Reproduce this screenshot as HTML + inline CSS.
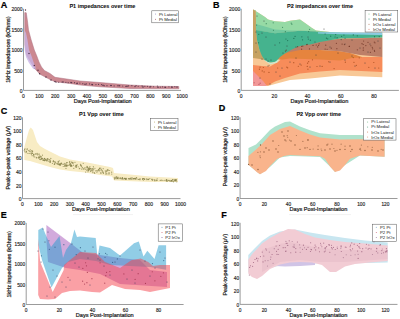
<!DOCTYPE html>
<html><head><meta charset="utf-8"><style>
html,body{margin:0;padding:0;background:#fff;overflow:hidden}
svg{display:block}
text{font-family:"Liberation Sans",sans-serif;paint-order:stroke}
</style></head><body>
<svg width="400" height="319" viewBox="0 0 400 319">
<rect width="400" height="319" fill="#fff"/>
<polygon points="24.80,12.60 26.30,12.80 27.60,22.00 28.50,30.00 31.20,40.00 34.30,50.00 36.80,56.00 39.00,62.00 41.50,67.00 44.40,70.50 50.00,73.50 55.00,77.30 60.00,78.00 70.00,79.50 80.00,81.00 100.00,82.50 130.00,85.00 155.00,86.20 178.80,86.50 178.80,88.80 130.00,88.50 100.00,86.80 80.00,85.00 70.00,83.50 55.00,81.75 50.00,79.50 40.00,74.25 36.00,70.00 32.50,65.00 30.00,61.00 26.50,55.00 24.90,45.00 24.70,30.00 24.70,12.80" fill="#cc8890" stroke="#ac7080" stroke-width="0.5"/>
<polygon points="24.60,30.00 26.00,33.00 27.50,40.00 29.00,50.00 31.50,56.00 33.50,62.00 35.50,67.00 35.50,69.50 33.00,68.50 29.00,63.00 26.00,57.00 24.70,50.00" fill="#c8b4e6" fill-opacity="0.8" stroke="none"/>
<circle cx="25.50" cy="10.00" r="0.7" fill="#4a2a40" fill-opacity="1"/>
<circle cx="29.00" cy="53.50" r="0.7" fill="#4a2a40" fill-opacity="1"/>
<circle cx="34.30" cy="65.50" r="0.7" fill="#4a2a40" fill-opacity="1"/>
<circle cx="38.00" cy="70.30" r="0.7" fill="#4a2a40" fill-opacity="1"/>
<circle cx="39.60" cy="73.80" r="0.7" fill="#4a2a40" fill-opacity="1"/>
<circle cx="46.00" cy="77.00" r="0.7" fill="#4a2a40" fill-opacity="1"/>
<circle cx="51.00" cy="80.00" r="0.7" fill="#4a2a40" fill-opacity="1"/>
<circle cx="55.00" cy="81.50" r="0.7" fill="#4a2a40" fill-opacity="1"/>
<circle cx="63.00" cy="82.00" r="0.7" fill="#4a2a40" fill-opacity="1"/>
<circle cx="71.00" cy="82.50" r="0.7" fill="#4a2a40" fill-opacity="1"/>
<circle cx="77.00" cy="83.50" r="0.7" fill="#4a2a40" fill-opacity="1"/>
<circle cx="85.00" cy="84.30" r="0.7" fill="#4a2a40" fill-opacity="1"/>
<circle cx="92.00" cy="84.50" r="0.7" fill="#4a2a40" fill-opacity="1"/>
<circle cx="103.00" cy="85.20" r="0.7" fill="#4a2a40" fill-opacity="1"/>
<circle cx="111.00" cy="85.50" r="0.7" fill="#4a2a40" fill-opacity="1"/>
<circle cx="119.00" cy="85.80" r="0.7" fill="#4a2a40" fill-opacity="1"/>
<circle cx="127.00" cy="86.30" r="0.7" fill="#4a2a40" fill-opacity="1"/>
<circle cx="135.00" cy="86.60" r="0.7" fill="#4a2a40" fill-opacity="1"/>
<circle cx="143.00" cy="87.00" r="0.7" fill="#4a2a40" fill-opacity="1"/>
<circle cx="150.00" cy="87.00" r="0.7" fill="#4a2a40" fill-opacity="1"/>
<circle cx="158.00" cy="87.20" r="0.7" fill="#4a2a40" fill-opacity="1"/>
<circle cx="165.00" cy="87.20" r="0.7" fill="#4a2a40" fill-opacity="1"/>
<circle cx="172.00" cy="87.20" r="0.7" fill="#4a2a40" fill-opacity="1"/>
<circle cx="177.00" cy="87.00" r="0.7" fill="#4a2a40" fill-opacity="1"/>
<circle cx="56.04" cy="82.18" r="0.6" fill="#4a2a40" fill-opacity="0.8"/>
<circle cx="58.68" cy="82.23" r="0.6" fill="#4a2a40" fill-opacity="0.8"/>
<circle cx="62.00" cy="82.02" r="0.6" fill="#4a2a40" fill-opacity="0.8"/>
<circle cx="65.91" cy="82.34" r="0.6" fill="#4a2a40" fill-opacity="0.8"/>
<circle cx="68.18" cy="82.63" r="0.6" fill="#4a2a40" fill-opacity="0.8"/>
<circle cx="71.70" cy="82.66" r="0.6" fill="#4a2a40" fill-opacity="0.8"/>
<circle cx="74.54" cy="82.66" r="0.6" fill="#4a2a40" fill-opacity="0.8"/>
<circle cx="77.20" cy="83.09" r="0.6" fill="#4a2a40" fill-opacity="0.8"/>
<circle cx="79.87" cy="83.03" r="0.6" fill="#4a2a40" fill-opacity="0.8"/>
<circle cx="82.80" cy="83.67" r="0.6" fill="#4a2a40" fill-opacity="0.8"/>
<circle cx="86.43" cy="83.95" r="0.6" fill="#4a2a40" fill-opacity="0.8"/>
<circle cx="89.58" cy="83.91" r="0.6" fill="#4a2a40" fill-opacity="0.8"/>
<circle cx="92.57" cy="84.64" r="0.6" fill="#4a2a40" fill-opacity="0.8"/>
<circle cx="95.95" cy="84.60" r="0.6" fill="#4a2a40" fill-opacity="0.8"/>
<circle cx="98.54" cy="84.47" r="0.6" fill="#4a2a40" fill-opacity="0.8"/>
<circle cx="101.55" cy="84.60" r="0.6" fill="#4a2a40" fill-opacity="0.8"/>
<circle cx="104.23" cy="85.69" r="0.6" fill="#4a2a40" fill-opacity="0.8"/>
<circle cx="106.97" cy="85.70" r="0.6" fill="#4a2a40" fill-opacity="0.8"/>
<circle cx="111.03" cy="85.51" r="0.6" fill="#4a2a40" fill-opacity="0.8"/>
<circle cx="114.13" cy="85.88" r="0.6" fill="#4a2a40" fill-opacity="0.8"/>
<circle cx="117.42" cy="85.77" r="0.6" fill="#4a2a40" fill-opacity="0.8"/>
<circle cx="119.81" cy="85.75" r="0.6" fill="#4a2a40" fill-opacity="0.8"/>
<circle cx="122.71" cy="86.02" r="0.6" fill="#4a2a40" fill-opacity="0.8"/>
<circle cx="125.84" cy="86.47" r="0.6" fill="#4a2a40" fill-opacity="0.8"/>
<circle cx="128.45" cy="85.92" r="0.6" fill="#4a2a40" fill-opacity="0.8"/>
<circle cx="131.87" cy="85.70" r="0.6" fill="#4a2a40" fill-opacity="0.8"/>
<circle cx="136.06" cy="85.67" r="0.6" fill="#4a2a40" fill-opacity="0.8"/>
<circle cx="138.24" cy="86.26" r="0.6" fill="#4a2a40" fill-opacity="0.8"/>
<circle cx="142.06" cy="85.88" r="0.6" fill="#4a2a40" fill-opacity="0.8"/>
<circle cx="144.88" cy="86.30" r="0.6" fill="#4a2a40" fill-opacity="0.8"/>
<circle cx="147.44" cy="86.35" r="0.6" fill="#4a2a40" fill-opacity="0.8"/>
<circle cx="150.81" cy="86.26" r="0.6" fill="#4a2a40" fill-opacity="0.8"/>
<circle cx="153.57" cy="86.75" r="0.6" fill="#4a2a40" fill-opacity="0.8"/>
<circle cx="157.39" cy="85.98" r="0.6" fill="#4a2a40" fill-opacity="0.8"/>
<circle cx="160.31" cy="87.03" r="0.6" fill="#4a2a40" fill-opacity="0.8"/>
<circle cx="162.56" cy="86.87" r="0.6" fill="#4a2a40" fill-opacity="0.8"/>
<circle cx="165.61" cy="87.31" r="0.6" fill="#4a2a40" fill-opacity="0.8"/>
<circle cx="168.93" cy="86.80" r="0.6" fill="#4a2a40" fill-opacity="0.8"/>
<circle cx="171.81" cy="86.85" r="0.6" fill="#4a2a40" fill-opacity="0.8"/>
<circle cx="174.88" cy="86.69" r="0.6" fill="#4a2a40" fill-opacity="0.8"/>
<circle cx="34.30" cy="68.60" r="0.5" fill="#9a90c0" fill-opacity="1"/>
<circle cx="26.00" cy="16.00" r="0.5" fill="#9a90c0" fill-opacity="1"/>
<line x1="23.5" y1="90.4" x2="181.0" y2="90.4" stroke="#707070" stroke-width="0.7"/>
<line x1="23.5" y1="90.4" x2="23.5" y2="8.8" stroke="#707070" stroke-width="0.7"/>
<g transform="translate(23.5 97.7) scale(0.1)"><text x="0" y="0" font-size="50.0" text-anchor="middle" font-weight="normal" fill="#1e1e1e" stroke="#1e1e1e" stroke-width="1.40">0</text></g>
<g transform="translate(39.36 97.7) scale(0.1)"><text x="0" y="0" font-size="50.0" text-anchor="middle" font-weight="normal" fill="#1e1e1e" stroke="#1e1e1e" stroke-width="1.40">100</text></g>
<g transform="translate(55.22 97.7) scale(0.1)"><text x="0" y="0" font-size="50.0" text-anchor="middle" font-weight="normal" fill="#1e1e1e" stroke="#1e1e1e" stroke-width="1.40">200</text></g>
<g transform="translate(71.08 97.7) scale(0.1)"><text x="0" y="0" font-size="50.0" text-anchor="middle" font-weight="normal" fill="#1e1e1e" stroke="#1e1e1e" stroke-width="1.40">300</text></g>
<g transform="translate(86.94 97.7) scale(0.1)"><text x="0" y="0" font-size="50.0" text-anchor="middle" font-weight="normal" fill="#1e1e1e" stroke="#1e1e1e" stroke-width="1.40">400</text></g>
<g transform="translate(102.8 97.7) scale(0.1)"><text x="0" y="0" font-size="50.0" text-anchor="middle" font-weight="normal" fill="#1e1e1e" stroke="#1e1e1e" stroke-width="1.40">500</text></g>
<g transform="translate(118.66 97.7) scale(0.1)"><text x="0" y="0" font-size="50.0" text-anchor="middle" font-weight="normal" fill="#1e1e1e" stroke="#1e1e1e" stroke-width="1.40">600</text></g>
<g transform="translate(134.51999999999998 97.7) scale(0.1)"><text x="0" y="0" font-size="50.0" text-anchor="middle" font-weight="normal" fill="#1e1e1e" stroke="#1e1e1e" stroke-width="1.40">700</text></g>
<g transform="translate(150.38 97.7) scale(0.1)"><text x="0" y="0" font-size="50.0" text-anchor="middle" font-weight="normal" fill="#1e1e1e" stroke="#1e1e1e" stroke-width="1.40">800</text></g>
<g transform="translate(166.24 97.7) scale(0.1)"><text x="0" y="0" font-size="50.0" text-anchor="middle" font-weight="normal" fill="#1e1e1e" stroke="#1e1e1e" stroke-width="1.40">900</text></g>
<g transform="translate(182.1 97.7) scale(0.1)"><text x="0" y="0" font-size="50.0" text-anchor="middle" font-weight="normal" fill="#1e1e1e" stroke="#1e1e1e" stroke-width="1.40">1000</text></g>
<g transform="translate(22.5 92.9) scale(0.1)"><text x="0" y="0" font-size="50.0" text-anchor="end" font-weight="normal" fill="#1e1e1e" stroke="#1e1e1e" stroke-width="1.40">0</text></g>
<g transform="translate(22.5 72.5) scale(0.1)"><text x="0" y="0" font-size="50.0" text-anchor="end" font-weight="normal" fill="#1e1e1e" stroke="#1e1e1e" stroke-width="1.40">500</text></g>
<g transform="translate(22.5 52.10000000000001) scale(0.1)"><text x="0" y="0" font-size="50.0" text-anchor="end" font-weight="normal" fill="#1e1e1e" stroke="#1e1e1e" stroke-width="1.40">1000</text></g>
<g transform="translate(22.5 31.70000000000001) scale(0.1)"><text x="0" y="0" font-size="50.0" text-anchor="end" font-weight="normal" fill="#1e1e1e" stroke="#1e1e1e" stroke-width="1.40">1500</text></g>
<g transform="translate(22.5 11.300000000000011) scale(0.1)"><text x="0" y="0" font-size="50.0" text-anchor="end" font-weight="normal" fill="#1e1e1e" stroke="#1e1e1e" stroke-width="1.40">2000</text></g>
<g transform="translate(102.7 103.1) scale(0.1)"><text x="0" y="0" font-size="56.0" text-anchor="middle" font-weight="normal" fill="#1e1e1e" stroke="#1e1e1e" stroke-width="2.20">Days Post-Implantation</text></g>
<g transform="translate(9.5 49.6) rotate(-90) scale(0.1)"><text x="0" y="0" font-size="55.0" text-anchor="middle" font-weight="normal" fill="#1e1e1e" stroke="#1e1e1e" stroke-width="2.20">1kHz impedances (kOhms)</text></g>
<g transform="translate(102.4 7.6) scale(0.1)"><text x="0" y="0" font-size="55.0" text-anchor="middle" font-weight="bold" fill="#111" stroke="#111" stroke-width="0.80">P1 impedances over time</text></g>
<rect x="151.8" y="10.8" width="26.69999999999999" height="12.0" fill="#fff" stroke="#555" stroke-width="0.5"/>
<circle cx="155.50" cy="14.00" r="0.5" fill="#9a90c0" fill-opacity="1"/>
<g transform="translate(159 15.5) scale(0.1)"><text x="0" y="0" font-size="43.0" text-anchor="start" font-weight="normal" fill="#111" stroke="#111" stroke-width="0.00">Pt Lateral</text></g>
<circle cx="155.50" cy="19.30" r="0.5" fill="#b06070" fill-opacity="1"/>
<g transform="translate(159 20.8) scale(0.1)"><text x="0" y="0" font-size="43.0" text-anchor="start" font-weight="normal" fill="#111" stroke="#111" stroke-width="0.00">Pt Medial</text></g>
<g transform="translate(0.8 8.2) scale(0.1)"><text x="0" y="0" font-size="90.0" text-anchor="start" font-weight="bold" fill="#000" stroke="#000" stroke-width="2.20">A</text></g>
<polygon points="253.00,9.50 258.00,12.50 265.00,16.90 268.00,19.40 275.00,21.30 285.00,21.90 290.00,20.70 300.00,19.60 305.00,23.00 312.00,28.00 316.00,30.60 330.00,32.00 340.00,32.20 382.30,32.50 382.30,77.30 340.00,75.50 310.00,78.50 290.00,80.00 275.00,84.00 268.00,86.00 253.00,86.00" fill="#f8c896" stroke="none"/>
<polygon points="253.00,65.00 262.00,66.00 270.00,66.50 278.00,62.00 285.00,56.00 290.00,53.00 300.00,53.00 320.00,56.00 340.00,57.00 382.30,57.00 382.30,72.00 340.00,70.00 320.00,71.50 300.00,73.50 285.00,78.00 275.00,81.50 268.00,85.50 262.00,84.00 253.00,80.00" fill="#f78c5a" stroke="none"/>
<polygon points="278.00,52.00 290.00,48.00 320.00,50.00 340.00,51.30 350.00,53.00 362.00,57.00 362.00,57.50 352.00,58.00 340.00,60.50 320.00,59.50 290.00,58.50 278.00,60.00" fill="#e6843e" stroke="none"/>
<polygon points="253.00,71.00 258.00,76.00 263.00,81.00 267.00,86.00 253.00,86.00" fill="#f29898" stroke="none"/>
<polygon points="285.00,46.00 300.00,43.00 320.00,41.00 340.00,38.80 382.30,37.70 382.30,57.00 360.00,55.00 340.00,51.30 320.00,50.00 300.00,50.00 285.00,53.00" fill="#bc7f68" stroke="none"/>
<polygon points="253.00,9.50 255.80,10.50 256.30,30.00 257.00,40.00 259.50,50.00 263.00,56.00 266.00,60.50 260.00,59.00 253.00,58.00" fill="#c6a262" stroke="none"/>
<polygon points="253.00,9.50 258.00,12.50 265.00,16.90 268.00,19.40 275.00,21.30 285.00,21.90 290.00,20.70 300.00,19.60 305.00,23.00 312.00,28.00 316.00,30.60 330.00,32.00 340.00,32.20 340.00,33.00 316.00,31.50 300.00,30.70 275.00,33.20 256.00,30.00 255.80,10.50" fill="#96daa5" stroke="none"/>
<polygon points="255.80,24.00 265.00,26.50 275.00,29.50 290.00,30.50 316.00,31.00 316.00,31.50 300.00,30.70 275.00,33.20 256.00,30.00" fill="#74c9a0" stroke="none"/>
<polygon points="256.00,30.00 275.00,33.20 300.00,30.70 316.00,31.50 340.00,33.00 382.30,34.80 382.30,37.50 340.00,38.50 320.00,42.00 310.00,44.50 300.00,46.00 295.00,48.00 290.00,50.50 285.00,53.50 280.00,57.00 276.00,61.50 272.00,62.60 268.00,62.30 265.00,60.50 262.00,56.00 259.50,50.00 257.00,40.00" fill="#45b38e" stroke="none"/>
<polygon points="318.00,32.30 340.00,32.20 382.30,32.50 382.30,34.90 340.00,34.20 318.00,33.40" fill="#8ccbe2" stroke="none"/>
<polygon points="263.00,59.50 266.00,61.50 270.00,64.20 277.00,62.80 280.00,58.50 275.00,62.00 270.00,63.00 266.00,60.70" fill="#c8ead6" stroke="none"/>
<circle cx="257.00" cy="16.00" r="0.6" fill="#3a3a3a" fill-opacity="0.8"/>
<circle cx="264.00" cy="21.00" r="0.6" fill="#3a3a3a" fill-opacity="0.8"/>
<circle cx="262.00" cy="33.00" r="0.6" fill="#3a3a3a" fill-opacity="0.8"/>
<circle cx="266.00" cy="37.00" r="0.6" fill="#3a3a3a" fill-opacity="0.8"/>
<circle cx="275.00" cy="45.00" r="0.6" fill="#3a3a3a" fill-opacity="0.8"/>
<circle cx="283.00" cy="53.00" r="0.6" fill="#3a3a3a" fill-opacity="0.8"/>
<circle cx="287.00" cy="46.00" r="0.6" fill="#3a3a3a" fill-opacity="0.8"/>
<circle cx="296.00" cy="47.00" r="0.6" fill="#3a3a3a" fill-opacity="0.8"/>
<circle cx="308.00" cy="37.00" r="0.6" fill="#3a3a3a" fill-opacity="0.8"/>
<circle cx="315.00" cy="42.00" r="0.6" fill="#3a3a3a" fill-opacity="0.8"/>
<circle cx="324.00" cy="29.00" r="0.6" fill="#3a3a3a" fill-opacity="0.8"/>
<circle cx="330.00" cy="47.00" r="0.6" fill="#3a3a3a" fill-opacity="0.8"/>
<circle cx="345.00" cy="44.00" r="0.6" fill="#3a3a3a" fill-opacity="0.8"/>
<circle cx="352.00" cy="40.00" r="0.6" fill="#3a3a3a" fill-opacity="0.8"/>
<circle cx="360.00" cy="48.00" r="0.6" fill="#3a3a3a" fill-opacity="0.8"/>
<circle cx="370.00" cy="44.00" r="0.6" fill="#3a3a3a" fill-opacity="0.8"/>
<circle cx="378.00" cy="41.00" r="0.6" fill="#3a3a3a" fill-opacity="0.8"/>
<circle cx="256.00" cy="32.00" r="0.6" fill="#3a3a3a" fill-opacity="0.8"/>
<circle cx="256.00" cy="43.00" r="0.6" fill="#3a3a3a" fill-opacity="0.8"/>
<circle cx="256.00" cy="52.00" r="0.6" fill="#3a3a3a" fill-opacity="0.8"/>
<circle cx="262.00" cy="59.00" r="0.6" fill="#3a3a3a" fill-opacity="0.8"/>
<circle cx="268.00" cy="66.00" r="0.6" fill="#3a3a3a" fill-opacity="0.8"/>
<circle cx="276.00" cy="72.00" r="0.6" fill="#3a3a3a" fill-opacity="0.8"/>
<circle cx="282.00" cy="68.00" r="0.6" fill="#3a3a3a" fill-opacity="0.8"/>
<circle cx="290.00" cy="62.00" r="0.6" fill="#3a3a3a" fill-opacity="0.8"/>
<circle cx="300.00" cy="64.00" r="0.6" fill="#3a3a3a" fill-opacity="0.8"/>
<circle cx="310.00" cy="67.00" r="0.6" fill="#3a3a3a" fill-opacity="0.8"/>
<circle cx="320.00" cy="66.00" r="0.6" fill="#3a3a3a" fill-opacity="0.8"/>
<circle cx="330.00" cy="62.00" r="0.6" fill="#3a3a3a" fill-opacity="0.8"/>
<circle cx="345.00" cy="60.00" r="0.6" fill="#3a3a3a" fill-opacity="0.8"/>
<circle cx="355.00" cy="66.00" r="0.6" fill="#3a3a3a" fill-opacity="0.8"/>
<circle cx="365.00" cy="63.00" r="0.6" fill="#3a3a3a" fill-opacity="0.8"/>
<circle cx="375.00" cy="68.00" r="0.6" fill="#3a3a3a" fill-opacity="0.8"/>
<circle cx="260.00" cy="78.00" r="0.6" fill="#3a3a3a" fill-opacity="0.8"/>
<circle cx="270.00" cy="84.00" r="0.6" fill="#3a3a3a" fill-opacity="0.8"/>
<circle cx="280.00" cy="76.00" r="0.6" fill="#3a3a3a" fill-opacity="0.8"/>
<circle cx="296.00" cy="58.00" r="0.6" fill="#3a3a3a" fill-opacity="0.8"/>
<circle cx="316.00" cy="55.00" r="0.6" fill="#3a3a3a" fill-opacity="0.8"/>
<circle cx="338.00" cy="53.00" r="0.6" fill="#3a3a3a" fill-opacity="0.8"/>
<circle cx="352.00" cy="56.00" r="0.6" fill="#3a3a3a" fill-opacity="0.8"/>
<circle cx="368.00" cy="52.00" r="0.6" fill="#3a3a3a" fill-opacity="0.8"/>
<circle cx="380.00" cy="48.00" r="0.6" fill="#3a3a3a" fill-opacity="0.8"/>
<circle cx="268.00" cy="61.00" r="0.6" fill="#3a3a3a" fill-opacity="0.8"/>
<circle cx="271.00" cy="60.00" r="0.6" fill="#3a3a3a" fill-opacity="0.8"/>
<circle cx="266.00" cy="59.00" r="0.6" fill="#3a3a3a" fill-opacity="0.8"/>
<circle cx="308.62" cy="31.59" r="0.6" fill="#2a7a50" fill-opacity="0.8"/>
<circle cx="285.34" cy="31.70" r="0.6" fill="#2a7a50" fill-opacity="0.8"/>
<circle cx="273.20" cy="22.80" r="0.6" fill="#2a7a50" fill-opacity="0.8"/>
<circle cx="291.19" cy="23.08" r="0.6" fill="#2a7a50" fill-opacity="0.8"/>
<circle cx="266.24" cy="23.68" r="0.6" fill="#2a7a50" fill-opacity="0.8"/>
<circle cx="291.85" cy="24.19" r="0.6" fill="#2a7a50" fill-opacity="0.8"/>
<circle cx="256.63" cy="25.12" r="0.6" fill="#2a7a50" fill-opacity="0.8"/>
<circle cx="273.46" cy="30.24" r="0.6" fill="#2a7a50" fill-opacity="0.8"/>
<circle cx="309.59" cy="29.32" r="0.6" fill="#2a7a50" fill-opacity="0.8"/>
<circle cx="282.55" cy="27.36" r="0.6" fill="#2a7a50" fill-opacity="0.8"/>
<circle cx="337.13" cy="37.72" r="0.6" fill="#1a6a50" fill-opacity="0.85"/>
<circle cx="326.47" cy="38.14" r="0.6" fill="#1a6a50" fill-opacity="0.85"/>
<circle cx="374.52" cy="36.63" r="0.6" fill="#1a6a50" fill-opacity="0.85"/>
<circle cx="310.33" cy="40.21" r="0.6" fill="#1a6a50" fill-opacity="0.85"/>
<circle cx="285.94" cy="39.01" r="0.6" fill="#1a6a50" fill-opacity="0.85"/>
<circle cx="379.20" cy="36.58" r="0.6" fill="#1a6a50" fill-opacity="0.85"/>
<circle cx="325.10" cy="34.01" r="0.6" fill="#1a6a50" fill-opacity="0.85"/>
<circle cx="308.32" cy="39.11" r="0.6" fill="#1a6a50" fill-opacity="0.85"/>
<circle cx="258.53" cy="42.77" r="0.6" fill="#1a6a50" fill-opacity="0.85"/>
<circle cx="335.65" cy="34.61" r="0.6" fill="#1a6a50" fill-opacity="0.85"/>
<circle cx="335.04" cy="37.00" r="0.6" fill="#1a6a50" fill-opacity="0.85"/>
<circle cx="341.59" cy="36.32" r="0.6" fill="#1a6a50" fill-opacity="0.85"/>
<circle cx="345.08" cy="38.24" r="0.6" fill="#1a6a50" fill-opacity="0.85"/>
<circle cx="258.79" cy="34.33" r="0.6" fill="#1a6a50" fill-opacity="0.85"/>
<circle cx="341.18" cy="39.60" r="0.6" fill="#1a6a50" fill-opacity="0.85"/>
<circle cx="287.64" cy="40.62" r="0.6" fill="#1a6a50" fill-opacity="0.85"/>
<circle cx="330.68" cy="36.13" r="0.6" fill="#1a6a50" fill-opacity="0.85"/>
<circle cx="301.86" cy="36.82" r="0.6" fill="#1a6a50" fill-opacity="0.85"/>
<circle cx="302.51" cy="39.83" r="0.6" fill="#1a6a50" fill-opacity="0.85"/>
<circle cx="293.85" cy="38.41" r="0.6" fill="#1a6a50" fill-opacity="0.85"/>
<circle cx="353.31" cy="34.92" r="0.6" fill="#1a6a50" fill-opacity="0.85"/>
<circle cx="327.73" cy="38.86" r="0.6" fill="#1a6a50" fill-opacity="0.85"/>
<circle cx="295.06" cy="36.45" r="0.6" fill="#1a6a50" fill-opacity="0.85"/>
<circle cx="357.28" cy="35.86" r="0.6" fill="#1a6a50" fill-opacity="0.85"/>
<circle cx="279.61" cy="42.82" r="0.6" fill="#1a6a50" fill-opacity="0.85"/>
<circle cx="343.96" cy="35.03" r="0.6" fill="#1a6a50" fill-opacity="0.85"/>
<circle cx="316.23" cy="45.01" r="0.6" fill="#6a3020" fill-opacity="0.8"/>
<circle cx="365.85" cy="45.58" r="0.6" fill="#6a3020" fill-opacity="0.8"/>
<circle cx="367.99" cy="42.34" r="0.6" fill="#6a3020" fill-opacity="0.8"/>
<circle cx="317.66" cy="46.97" r="0.6" fill="#6a3020" fill-opacity="0.8"/>
<circle cx="370.84" cy="45.76" r="0.6" fill="#6a3020" fill-opacity="0.8"/>
<circle cx="306.83" cy="44.68" r="0.6" fill="#6a3020" fill-opacity="0.8"/>
<circle cx="336.37" cy="43.29" r="0.6" fill="#6a3020" fill-opacity="0.8"/>
<circle cx="363.26" cy="50.18" r="0.6" fill="#6a3020" fill-opacity="0.8"/>
<circle cx="302.81" cy="46.06" r="0.6" fill="#6a3020" fill-opacity="0.8"/>
<circle cx="363.30" cy="47.91" r="0.6" fill="#6a3020" fill-opacity="0.8"/>
<circle cx="363.21" cy="44.49" r="0.6" fill="#6a3020" fill-opacity="0.8"/>
<circle cx="297.58" cy="46.68" r="0.6" fill="#6a3020" fill-opacity="0.8"/>
<circle cx="362.00" cy="43.65" r="0.6" fill="#6a3020" fill-opacity="0.8"/>
<circle cx="318.60" cy="45.32" r="0.6" fill="#6a3020" fill-opacity="0.8"/>
<circle cx="325.72" cy="45.15" r="0.6" fill="#6a3020" fill-opacity="0.8"/>
<circle cx="374.30" cy="42.02" r="0.6" fill="#6a3020" fill-opacity="0.8"/>
<circle cx="285.45" cy="51.10" r="0.6" fill="#6a3020" fill-opacity="0.8"/>
<circle cx="370.36" cy="52.36" r="0.6" fill="#6a3020" fill-opacity="0.8"/>
<circle cx="327.13" cy="49.25" r="0.6" fill="#6a3020" fill-opacity="0.8"/>
<circle cx="374.96" cy="42.85" r="0.6" fill="#6a3020" fill-opacity="0.8"/>
<circle cx="357.32" cy="49.87" r="0.6" fill="#6a3020" fill-opacity="0.8"/>
<circle cx="349.31" cy="46.29" r="0.6" fill="#6a3020" fill-opacity="0.8"/>
<circle cx="313.04" cy="45.38" r="0.6" fill="#6a3020" fill-opacity="0.8"/>
<circle cx="307.06" cy="44.33" r="0.6" fill="#6a3020" fill-opacity="0.8"/>
<circle cx="342.10" cy="44.05" r="0.6" fill="#6a3020" fill-opacity="0.8"/>
<circle cx="363.59" cy="41.01" r="0.6" fill="#6a3020" fill-opacity="0.8"/>
<circle cx="372.65" cy="48.82" r="0.6" fill="#6a3020" fill-opacity="0.8"/>
<circle cx="374.61" cy="51.48" r="0.6" fill="#6a3020" fill-opacity="0.8"/>
<circle cx="372.27" cy="47.35" r="0.6" fill="#6a3020" fill-opacity="0.8"/>
<circle cx="286.28" cy="50.08" r="0.6" fill="#6a3020" fill-opacity="0.8"/>
<circle cx="301.67" cy="46.30" r="0.6" fill="#6a3020" fill-opacity="0.8"/>
<circle cx="349.30" cy="46.35" r="0.6" fill="#6a3020" fill-opacity="0.8"/>
<circle cx="325.13" cy="49.04" r="0.6" fill="#6a3020" fill-opacity="0.8"/>
<circle cx="344.38" cy="44.54" r="0.6" fill="#6a3020" fill-opacity="0.8"/>
<circle cx="309.49" cy="48.97" r="0.6" fill="#6a3020" fill-opacity="0.8"/>
<circle cx="331.29" cy="48.16" r="0.6" fill="#6a3020" fill-opacity="0.8"/>
<circle cx="319.13" cy="43.79" r="0.6" fill="#6a3020" fill-opacity="0.8"/>
<circle cx="336.86" cy="48.69" r="0.6" fill="#6a3020" fill-opacity="0.8"/>
<circle cx="301.62" cy="49.13" r="0.6" fill="#6a3020" fill-opacity="0.8"/>
<circle cx="374.41" cy="50.32" r="0.6" fill="#6a3020" fill-opacity="0.8"/>
<circle cx="359.23" cy="57.80" r="0.6" fill="#9a4010" fill-opacity="0.75"/>
<circle cx="334.09" cy="68.62" r="0.6" fill="#9a4010" fill-opacity="0.75"/>
<circle cx="259.44" cy="69.15" r="0.6" fill="#9a4010" fill-opacity="0.75"/>
<circle cx="287.65" cy="67.86" r="0.6" fill="#9a4010" fill-opacity="0.75"/>
<circle cx="307.56" cy="63.14" r="0.6" fill="#9a4010" fill-opacity="0.75"/>
<circle cx="353.17" cy="57.54" r="0.6" fill="#9a4010" fill-opacity="0.75"/>
<circle cx="260.07" cy="67.18" r="0.6" fill="#9a4010" fill-opacity="0.75"/>
<circle cx="269.08" cy="65.26" r="0.6" fill="#9a4010" fill-opacity="0.75"/>
<circle cx="378.74" cy="68.01" r="0.6" fill="#9a4010" fill-opacity="0.75"/>
<circle cx="264.11" cy="71.89" r="0.6" fill="#9a4010" fill-opacity="0.75"/>
<circle cx="293.75" cy="62.67" r="0.6" fill="#9a4010" fill-opacity="0.75"/>
<circle cx="298.32" cy="66.27" r="0.6" fill="#9a4010" fill-opacity="0.75"/>
<circle cx="328.67" cy="61.75" r="0.6" fill="#9a4010" fill-opacity="0.75"/>
<circle cx="277.65" cy="67.99" r="0.6" fill="#9a4010" fill-opacity="0.75"/>
<circle cx="268.96" cy="72.40" r="0.6" fill="#9a4010" fill-opacity="0.75"/>
<circle cx="345.37" cy="62.22" r="0.6" fill="#9a4010" fill-opacity="0.75"/>
<circle cx="263.31" cy="67.51" r="0.6" fill="#9a4010" fill-opacity="0.75"/>
<circle cx="301.15" cy="65.09" r="0.6" fill="#9a4010" fill-opacity="0.75"/>
<circle cx="353.96" cy="62.32" r="0.6" fill="#9a4010" fill-opacity="0.75"/>
<circle cx="356.35" cy="65.37" r="0.6" fill="#9a4010" fill-opacity="0.75"/>
<circle cx="308.68" cy="61.67" r="0.6" fill="#9a4010" fill-opacity="0.75"/>
<circle cx="317.00" cy="66.52" r="0.6" fill="#9a4010" fill-opacity="0.75"/>
<circle cx="307.25" cy="66.43" r="0.6" fill="#9a4010" fill-opacity="0.75"/>
<circle cx="312.45" cy="59.86" r="0.6" fill="#9a4010" fill-opacity="0.75"/>
<circle cx="322.12" cy="66.39" r="0.6" fill="#9a4010" fill-opacity="0.75"/>
<circle cx="262.23" cy="70.96" r="0.6" fill="#9a4010" fill-opacity="0.75"/>
<circle cx="307.94" cy="69.17" r="0.6" fill="#9a4010" fill-opacity="0.75"/>
<circle cx="373.81" cy="62.49" r="0.6" fill="#9a4010" fill-opacity="0.75"/>
<circle cx="368.82" cy="67.36" r="0.6" fill="#9a4010" fill-opacity="0.75"/>
<circle cx="286.82" cy="67.16" r="0.6" fill="#9a4010" fill-opacity="0.75"/>
<circle cx="254.11" cy="82.75" r="0.6" fill="#a04050" fill-opacity="0.8"/>
<circle cx="258.96" cy="84.35" r="0.6" fill="#a04050" fill-opacity="0.8"/>
<circle cx="260.13" cy="83.20" r="0.6" fill="#a04050" fill-opacity="0.8"/>
<line x1="241.2" y1="90.4" x2="398.9" y2="90.4" stroke="#707070" stroke-width="0.7"/>
<line x1="241.2" y1="90.4" x2="241.2" y2="8.8" stroke="#707070" stroke-width="0.7"/>
<g transform="translate(241.2 97.7) scale(0.1)"><text x="0" y="0" font-size="50.0" text-anchor="middle" font-weight="normal" fill="#1e1e1e" stroke="#1e1e1e" stroke-width="1.40">0</text></g>
<g transform="translate(274.4 97.7) scale(0.1)"><text x="0" y="0" font-size="50.0" text-anchor="middle" font-weight="normal" fill="#1e1e1e" stroke="#1e1e1e" stroke-width="1.40">20</text></g>
<g transform="translate(307.6 97.7) scale(0.1)"><text x="0" y="0" font-size="50.0" text-anchor="middle" font-weight="normal" fill="#1e1e1e" stroke="#1e1e1e" stroke-width="1.40">40</text></g>
<g transform="translate(340.8 97.7) scale(0.1)"><text x="0" y="0" font-size="50.0" text-anchor="middle" font-weight="normal" fill="#1e1e1e" stroke="#1e1e1e" stroke-width="1.40">60</text></g>
<g transform="translate(374.0 97.7) scale(0.1)"><text x="0" y="0" font-size="50.0" text-anchor="middle" font-weight="normal" fill="#1e1e1e" stroke="#1e1e1e" stroke-width="1.40">80</text></g>
<g transform="translate(240.2 92.9) scale(0.1)"><text x="0" y="0" font-size="50.0" text-anchor="end" font-weight="normal" fill="#1e1e1e" stroke="#1e1e1e" stroke-width="1.40">0</text></g>
<g transform="translate(240.2 72.5) scale(0.1)"><text x="0" y="0" font-size="50.0" text-anchor="end" font-weight="normal" fill="#1e1e1e" stroke="#1e1e1e" stroke-width="1.40">500</text></g>
<g transform="translate(240.2 52.10000000000001) scale(0.1)"><text x="0" y="0" font-size="50.0" text-anchor="end" font-weight="normal" fill="#1e1e1e" stroke="#1e1e1e" stroke-width="1.40">1000</text></g>
<g transform="translate(240.2 31.70000000000001) scale(0.1)"><text x="0" y="0" font-size="50.0" text-anchor="end" font-weight="normal" fill="#1e1e1e" stroke="#1e1e1e" stroke-width="1.40">1500</text></g>
<g transform="translate(240.2 11.300000000000011) scale(0.1)"><text x="0" y="0" font-size="50.0" text-anchor="end" font-weight="normal" fill="#1e1e1e" stroke="#1e1e1e" stroke-width="1.40">2000</text></g>
<g transform="translate(319.4 103.1) scale(0.1)"><text x="0" y="0" font-size="56.0" text-anchor="middle" font-weight="normal" fill="#1e1e1e" stroke="#1e1e1e" stroke-width="2.20">Days Post-Implantation</text></g>
<g transform="translate(226.8 49.6) rotate(-90) scale(0.1)"><text x="0" y="0" font-size="55.0" text-anchor="middle" font-weight="normal" fill="#1e1e1e" stroke="#1e1e1e" stroke-width="2.20">1kHz impedances (kOhms)</text></g>
<g transform="translate(320 7.6) scale(0.1)"><text x="0" y="0" font-size="55.0" text-anchor="middle" font-weight="bold" fill="#111" stroke="#111" stroke-width="0.80">P2 impedances over time</text></g>
<rect x="365.1" y="10.6" width="32.64999999999998" height="21.4" fill="#fff" stroke="#555" stroke-width="0.5"/>
<circle cx="369.00" cy="14.00" r="0.5" fill="#6cbf80" fill-opacity="1"/>
<g transform="translate(373 15.5) scale(0.1)"><text x="0" y="0" font-size="43.0" text-anchor="start" font-weight="normal" fill="#111" stroke="#111" stroke-width="0.00">Pt Lateral</text></g>
<circle cx="369.00" cy="19.07" r="0.5" fill="#2a9a80" fill-opacity="1"/>
<g transform="translate(373 20.57) scale(0.1)"><text x="0" y="0" font-size="43.0" text-anchor="start" font-weight="normal" fill="#111" stroke="#111" stroke-width="0.00">Pt Medial</text></g>
<circle cx="369.00" cy="24.13" r="0.5" fill="#b07050" fill-opacity="1"/>
<g transform="translate(373 25.63) scale(0.1)"><text x="0" y="0" font-size="43.0" text-anchor="start" font-weight="normal" fill="#111" stroke="#111" stroke-width="0.00">IrOx Lateral</text></g>
<circle cx="369.00" cy="29.20" r="0.5" fill="#e07060" fill-opacity="1"/>
<g transform="translate(373 30.7) scale(0.1)"><text x="0" y="0" font-size="43.0" text-anchor="start" font-weight="normal" fill="#111" stroke="#111" stroke-width="0.00">IrOx Medial</text></g>
<g transform="translate(213.1 7.6) scale(0.1)"><text x="0" y="0" font-size="90.0" text-anchor="start" font-weight="bold" fill="#000" stroke="#000" stroke-width="2.20">B</text></g>
<polygon points="24.30,147.00 27.00,137.00 29.00,130.00 30.70,127.50 33.00,130.00 35.00,136.00 37.00,142.00 40.00,146.00 45.00,149.00 50.00,151.50 55.00,154.00 60.00,156.50 70.00,159.50 85.00,162.00 100.00,165.00 110.00,167.00 113.00,168.00 114.00,173.00 130.00,174.50 150.00,176.50 178.00,178.00 178.00,182.00 150.00,182.00 114.00,180.50 112.00,176.50 100.00,175.00 85.00,172.50 70.00,171.00 60.00,169.50 50.00,167.00 40.00,164.00 30.00,161.00 24.30,160.00" fill="#f8ecc4" stroke="none"/>
<circle cx="88.57" cy="168.35" r="0.6" fill="#858048" fill-opacity="0.75"/>
<circle cx="75.72" cy="165.30" r="0.6" fill="#858048" fill-opacity="0.75"/>
<circle cx="24.43" cy="151.75" r="0.6" fill="#858048" fill-opacity="0.75"/>
<circle cx="27.90" cy="153.33" r="0.6" fill="#858048" fill-opacity="0.75"/>
<circle cx="32.08" cy="155.65" r="0.6" fill="#858048" fill-opacity="0.75"/>
<circle cx="39.77" cy="159.18" r="0.6" fill="#858048" fill-opacity="0.75"/>
<circle cx="26.07" cy="151.10" r="0.6" fill="#858048" fill-opacity="0.75"/>
<circle cx="98.27" cy="170.10" r="0.6" fill="#858048" fill-opacity="0.75"/>
<circle cx="83.27" cy="169.05" r="0.6" fill="#858048" fill-opacity="0.75"/>
<circle cx="74.96" cy="162.32" r="0.6" fill="#858048" fill-opacity="0.75"/>
<circle cx="94.29" cy="172.64" r="0.6" fill="#858048" fill-opacity="0.75"/>
<circle cx="69.00" cy="165.48" r="0.6" fill="#858048" fill-opacity="0.75"/>
<circle cx="86.93" cy="170.38" r="0.6" fill="#858048" fill-opacity="0.75"/>
<circle cx="106.24" cy="173.59" r="0.6" fill="#858048" fill-opacity="0.75"/>
<circle cx="29.38" cy="150.92" r="0.6" fill="#858048" fill-opacity="0.75"/>
<circle cx="96.87" cy="172.26" r="0.6" fill="#858048" fill-opacity="0.75"/>
<circle cx="45.31" cy="159.84" r="0.6" fill="#858048" fill-opacity="0.75"/>
<circle cx="78.21" cy="166.85" r="0.6" fill="#858048" fill-opacity="0.75"/>
<circle cx="90.31" cy="168.42" r="0.6" fill="#858048" fill-opacity="0.75"/>
<circle cx="58.90" cy="164.56" r="0.6" fill="#858048" fill-opacity="0.75"/>
<circle cx="54.83" cy="161.90" r="0.6" fill="#858048" fill-opacity="0.75"/>
<circle cx="68.03" cy="165.11" r="0.6" fill="#858048" fill-opacity="0.75"/>
<circle cx="109.63" cy="170.48" r="0.6" fill="#858048" fill-opacity="0.75"/>
<circle cx="38.13" cy="157.77" r="0.6" fill="#858048" fill-opacity="0.75"/>
<circle cx="84.79" cy="167.76" r="0.6" fill="#858048" fill-opacity="0.75"/>
<circle cx="69.50" cy="162.71" r="0.6" fill="#858048" fill-opacity="0.75"/>
<circle cx="66.57" cy="162.66" r="0.6" fill="#858048" fill-opacity="0.75"/>
<circle cx="37.14" cy="153.42" r="0.6" fill="#858048" fill-opacity="0.75"/>
<circle cx="32.44" cy="153.30" r="0.6" fill="#858048" fill-opacity="0.75"/>
<circle cx="69.52" cy="161.61" r="0.6" fill="#858048" fill-opacity="0.75"/>
<circle cx="62.99" cy="164.11" r="0.6" fill="#858048" fill-opacity="0.75"/>
<circle cx="47.53" cy="159.19" r="0.6" fill="#858048" fill-opacity="0.75"/>
<circle cx="41.53" cy="156.91" r="0.6" fill="#858048" fill-opacity="0.75"/>
<circle cx="44.44" cy="158.39" r="0.6" fill="#858048" fill-opacity="0.75"/>
<circle cx="84.82" cy="168.89" r="0.6" fill="#858048" fill-opacity="0.75"/>
<circle cx="86.07" cy="167.76" r="0.6" fill="#858048" fill-opacity="0.75"/>
<circle cx="60.36" cy="165.24" r="0.6" fill="#858048" fill-opacity="0.75"/>
<circle cx="47.51" cy="158.55" r="0.6" fill="#858048" fill-opacity="0.75"/>
<circle cx="43.15" cy="160.30" r="0.6" fill="#858048" fill-opacity="0.75"/>
<circle cx="57.68" cy="163.55" r="0.6" fill="#858048" fill-opacity="0.75"/>
<circle cx="39.16" cy="156.19" r="0.6" fill="#858048" fill-opacity="0.75"/>
<circle cx="92.13" cy="170.84" r="0.6" fill="#858048" fill-opacity="0.75"/>
<circle cx="36.64" cy="157.36" r="0.6" fill="#858048" fill-opacity="0.75"/>
<circle cx="76.71" cy="165.58" r="0.6" fill="#858048" fill-opacity="0.75"/>
<circle cx="65.19" cy="165.93" r="0.6" fill="#858048" fill-opacity="0.75"/>
<circle cx="73.03" cy="162.90" r="0.6" fill="#858048" fill-opacity="0.75"/>
<circle cx="66.35" cy="164.09" r="0.6" fill="#858048" fill-opacity="0.75"/>
<circle cx="59.22" cy="160.86" r="0.6" fill="#858048" fill-opacity="0.75"/>
<circle cx="88.56" cy="170.63" r="0.6" fill="#858048" fill-opacity="0.75"/>
<circle cx="44.20" cy="158.56" r="0.6" fill="#858048" fill-opacity="0.75"/>
<circle cx="44.66" cy="158.68" r="0.6" fill="#858048" fill-opacity="0.75"/>
<circle cx="108.37" cy="170.19" r="0.6" fill="#858048" fill-opacity="0.75"/>
<circle cx="99.14" cy="170.92" r="0.6" fill="#858048" fill-opacity="0.75"/>
<circle cx="46.76" cy="160.84" r="0.6" fill="#858048" fill-opacity="0.75"/>
<circle cx="40.47" cy="156.83" r="0.6" fill="#858048" fill-opacity="0.75"/>
<circle cx="103.18" cy="168.68" r="0.6" fill="#858048" fill-opacity="0.75"/>
<circle cx="46.44" cy="160.62" r="0.6" fill="#858048" fill-opacity="0.75"/>
<circle cx="61.25" cy="163.15" r="0.6" fill="#858048" fill-opacity="0.75"/>
<circle cx="88.15" cy="169.42" r="0.6" fill="#858048" fill-opacity="0.75"/>
<circle cx="97.39" cy="170.95" r="0.6" fill="#858048" fill-opacity="0.75"/>
<circle cx="49.68" cy="159.66" r="0.6" fill="#858048" fill-opacity="0.75"/>
<circle cx="83.44" cy="168.75" r="0.6" fill="#858048" fill-opacity="0.75"/>
<circle cx="24.61" cy="149.39" r="0.6" fill="#858048" fill-opacity="0.75"/>
<circle cx="66.76" cy="166.06" r="0.6" fill="#858048" fill-opacity="0.75"/>
<circle cx="42.49" cy="155.15" r="0.6" fill="#858048" fill-opacity="0.75"/>
<circle cx="58.40" cy="161.61" r="0.6" fill="#858048" fill-opacity="0.75"/>
<circle cx="71.90" cy="166.07" r="0.6" fill="#858048" fill-opacity="0.75"/>
<circle cx="82.56" cy="167.71" r="0.6" fill="#858048" fill-opacity="0.75"/>
<circle cx="33.90" cy="156.64" r="0.6" fill="#858048" fill-opacity="0.75"/>
<circle cx="32.53" cy="151.25" r="0.6" fill="#858048" fill-opacity="0.75"/>
<circle cx="106.83" cy="170.32" r="0.6" fill="#858048" fill-opacity="0.75"/>
<circle cx="90.64" cy="171.43" r="0.6" fill="#858048" fill-opacity="0.75"/>
<circle cx="50.01" cy="160.02" r="0.6" fill="#858048" fill-opacity="0.75"/>
<circle cx="94.93" cy="168.29" r="0.6" fill="#858048" fill-opacity="0.75"/>
<circle cx="47.37" cy="160.18" r="0.6" fill="#858048" fill-opacity="0.75"/>
<circle cx="83.21" cy="163.30" r="0.6" fill="#858048" fill-opacity="0.75"/>
<circle cx="71.18" cy="166.44" r="0.6" fill="#858048" fill-opacity="0.75"/>
<circle cx="54.99" cy="163.64" r="0.6" fill="#858048" fill-opacity="0.75"/>
<circle cx="87.19" cy="167.68" r="0.6" fill="#858048" fill-opacity="0.75"/>
<circle cx="40.01" cy="155.76" r="0.6" fill="#858048" fill-opacity="0.75"/>
<circle cx="80.82" cy="165.65" r="0.6" fill="#858048" fill-opacity="0.75"/>
<circle cx="102.31" cy="170.69" r="0.6" fill="#858048" fill-opacity="0.75"/>
<circle cx="81.67" cy="169.07" r="0.6" fill="#858048" fill-opacity="0.75"/>
<circle cx="36.44" cy="157.97" r="0.6" fill="#858048" fill-opacity="0.75"/>
<circle cx="53.17" cy="161.58" r="0.6" fill="#858048" fill-opacity="0.75"/>
<circle cx="72.83" cy="163.29" r="0.6" fill="#858048" fill-opacity="0.75"/>
<circle cx="80.98" cy="165.09" r="0.6" fill="#858048" fill-opacity="0.75"/>
<circle cx="39.52" cy="157.58" r="0.6" fill="#858048" fill-opacity="0.75"/>
<circle cx="30.04" cy="151.48" r="0.6" fill="#858048" fill-opacity="0.75"/>
<circle cx="71.80" cy="162.72" r="0.6" fill="#858048" fill-opacity="0.75"/>
<circle cx="89.09" cy="168.43" r="0.6" fill="#858048" fill-opacity="0.75"/>
<circle cx="57.74" cy="164.23" r="0.6" fill="#858048" fill-opacity="0.75"/>
<circle cx="100.78" cy="172.85" r="0.6" fill="#858048" fill-opacity="0.75"/>
<circle cx="45.75" cy="159.98" r="0.6" fill="#858048" fill-opacity="0.75"/>
<circle cx="91.66" cy="168.93" r="0.6" fill="#858048" fill-opacity="0.75"/>
<circle cx="59.49" cy="164.92" r="0.6" fill="#858048" fill-opacity="0.75"/>
<circle cx="71.65" cy="165.36" r="0.6" fill="#858048" fill-opacity="0.75"/>
<circle cx="98.53" cy="169.39" r="0.6" fill="#858048" fill-opacity="0.75"/>
<circle cx="33.87" cy="154.04" r="0.6" fill="#858048" fill-opacity="0.75"/>
<circle cx="33.92" cy="154.84" r="0.6" fill="#858048" fill-opacity="0.75"/>
<circle cx="92.55" cy="169.75" r="0.6" fill="#858048" fill-opacity="0.75"/>
<circle cx="40.65" cy="156.78" r="0.6" fill="#858048" fill-opacity="0.75"/>
<circle cx="60.67" cy="163.95" r="0.6" fill="#858048" fill-opacity="0.75"/>
<circle cx="89.89" cy="166.70" r="0.6" fill="#858048" fill-opacity="0.75"/>
<circle cx="76.09" cy="166.52" r="0.6" fill="#858048" fill-opacity="0.75"/>
<circle cx="41.04" cy="159.07" r="0.6" fill="#858048" fill-opacity="0.75"/>
<circle cx="70.43" cy="164.13" r="0.6" fill="#858048" fill-opacity="0.75"/>
<circle cx="46.01" cy="159.18" r="0.6" fill="#858048" fill-opacity="0.75"/>
<circle cx="92.79" cy="172.57" r="0.6" fill="#858048" fill-opacity="0.75"/>
<circle cx="102.43" cy="171.91" r="0.6" fill="#858048" fill-opacity="0.75"/>
<circle cx="107.54" cy="170.84" r="0.6" fill="#858048" fill-opacity="0.75"/>
<circle cx="75.31" cy="166.81" r="0.6" fill="#858048" fill-opacity="0.75"/>
<circle cx="79.76" cy="168.24" r="0.6" fill="#858048" fill-opacity="0.75"/>
<circle cx="50.35" cy="160.77" r="0.6" fill="#858048" fill-opacity="0.75"/>
<circle cx="99.68" cy="168.93" r="0.6" fill="#858048" fill-opacity="0.75"/>
<circle cx="87.96" cy="168.99" r="0.6" fill="#858048" fill-opacity="0.75"/>
<circle cx="24.21" cy="150.35" r="0.6" fill="#858048" fill-opacity="0.75"/>
<circle cx="67.28" cy="162.54" r="0.6" fill="#858048" fill-opacity="0.75"/>
<circle cx="70.08" cy="164.05" r="0.6" fill="#858048" fill-opacity="0.75"/>
<circle cx="70.60" cy="165.30" r="0.6" fill="#858048" fill-opacity="0.75"/>
<circle cx="27.26" cy="148.93" r="0.6" fill="#858048" fill-opacity="0.75"/>
<circle cx="63.09" cy="164.30" r="0.6" fill="#858048" fill-opacity="0.75"/>
<circle cx="73.81" cy="168.44" r="0.6" fill="#858048" fill-opacity="0.75"/>
<circle cx="35.93" cy="154.46" r="0.6" fill="#858048" fill-opacity="0.75"/>
<circle cx="93.73" cy="169.71" r="0.6" fill="#858048" fill-opacity="0.75"/>
<circle cx="55.67" cy="162.36" r="0.6" fill="#858048" fill-opacity="0.75"/>
<circle cx="44.54" cy="160.74" r="0.6" fill="#858048" fill-opacity="0.75"/>
<circle cx="105.82" cy="172.85" r="0.6" fill="#858048" fill-opacity="0.75"/>
<circle cx="52.43" cy="163.32" r="0.6" fill="#858048" fill-opacity="0.75"/>
<circle cx="35.82" cy="153.52" r="0.6" fill="#858048" fill-opacity="0.75"/>
<circle cx="99.53" cy="168.17" r="0.6" fill="#858048" fill-opacity="0.75"/>
<circle cx="87.00" cy="166.41" r="0.6" fill="#858048" fill-opacity="0.75"/>
<circle cx="89.10" cy="167.67" r="0.6" fill="#858048" fill-opacity="0.75"/>
<circle cx="105.99" cy="174.26" r="0.6" fill="#858048" fill-opacity="0.75"/>
<circle cx="99.81" cy="168.64" r="0.6" fill="#858048" fill-opacity="0.75"/>
<circle cx="66.68" cy="165.64" r="0.6" fill="#858048" fill-opacity="0.75"/>
<circle cx="33.60" cy="154.56" r="0.6" fill="#858048" fill-opacity="0.75"/>
<circle cx="41.63" cy="158.23" r="0.6" fill="#858048" fill-opacity="0.75"/>
<circle cx="38.15" cy="154.16" r="0.6" fill="#858048" fill-opacity="0.75"/>
<circle cx="71.29" cy="165.17" r="0.6" fill="#858048" fill-opacity="0.75"/>
<circle cx="61.15" cy="163.36" r="0.6" fill="#858048" fill-opacity="0.75"/>
<circle cx="64.87" cy="163.46" r="0.6" fill="#858048" fill-opacity="0.75"/>
<circle cx="90.62" cy="168.82" r="0.6" fill="#858048" fill-opacity="0.75"/>
<circle cx="103.15" cy="172.07" r="0.6" fill="#858048" fill-opacity="0.75"/>
<circle cx="87.33" cy="167.60" r="0.6" fill="#858048" fill-opacity="0.75"/>
<circle cx="70.58" cy="166.13" r="0.6" fill="#858048" fill-opacity="0.75"/>
<circle cx="76.49" cy="165.67" r="0.6" fill="#858048" fill-opacity="0.75"/>
<circle cx="42.39" cy="158.45" r="0.6" fill="#858048" fill-opacity="0.75"/>
<circle cx="92.92" cy="170.97" r="0.6" fill="#858048" fill-opacity="0.75"/>
<circle cx="41.19" cy="159.22" r="0.6" fill="#858048" fill-opacity="0.75"/>
<circle cx="42.42" cy="159.07" r="0.6" fill="#858048" fill-opacity="0.75"/>
<circle cx="38.81" cy="158.18" r="0.6" fill="#858048" fill-opacity="0.75"/>
<circle cx="26.42" cy="151.51" r="0.6" fill="#858048" fill-opacity="0.75"/>
<circle cx="67.14" cy="165.30" r="0.6" fill="#858048" fill-opacity="0.75"/>
<circle cx="29.26" cy="153.37" r="0.6" fill="#858048" fill-opacity="0.75"/>
<circle cx="59.88" cy="164.19" r="0.6" fill="#858048" fill-opacity="0.75"/>
<circle cx="85.90" cy="169.51" r="0.6" fill="#858048" fill-opacity="0.75"/>
<circle cx="58.90" cy="164.15" r="0.6" fill="#858048" fill-opacity="0.75"/>
<circle cx="26.35" cy="151.81" r="0.6" fill="#858048" fill-opacity="0.75"/>
<circle cx="32.30" cy="153.04" r="0.6" fill="#858048" fill-opacity="0.75"/>
<circle cx="65.76" cy="165.64" r="0.6" fill="#858048" fill-opacity="0.75"/>
<circle cx="54.48" cy="164.14" r="0.6" fill="#858048" fill-opacity="0.75"/>
<circle cx="34.91" cy="156.99" r="0.6" fill="#858048" fill-opacity="0.75"/>
<circle cx="48.21" cy="161.15" r="0.6" fill="#858048" fill-opacity="0.75"/>
<circle cx="93.33" cy="166.59" r="0.6" fill="#858048" fill-opacity="0.75"/>
<circle cx="50.45" cy="161.89" r="0.6" fill="#858048" fill-opacity="0.75"/>
<circle cx="46.00" cy="159.33" r="0.6" fill="#858048" fill-opacity="0.75"/>
<circle cx="79.36" cy="168.68" r="0.6" fill="#858048" fill-opacity="0.75"/>
<circle cx="54.34" cy="164.19" r="0.6" fill="#858048" fill-opacity="0.75"/>
<circle cx="109.30" cy="173.81" r="0.6" fill="#858048" fill-opacity="0.75"/>
<circle cx="76.12" cy="165.98" r="0.6" fill="#858048" fill-opacity="0.75"/>
<circle cx="31.97" cy="153.09" r="0.6" fill="#858048" fill-opacity="0.75"/>
<circle cx="38.99" cy="157.43" r="0.6" fill="#858048" fill-opacity="0.75"/>
<circle cx="81.58" cy="166.67" r="0.6" fill="#858048" fill-opacity="0.75"/>
<circle cx="103.23" cy="172.77" r="0.6" fill="#858048" fill-opacity="0.75"/>
<circle cx="65.97" cy="168.45" r="0.6" fill="#858048" fill-opacity="0.75"/>
<circle cx="94.72" cy="173.30" r="0.6" fill="#858048" fill-opacity="0.75"/>
<circle cx="27.01" cy="149.24" r="0.6" fill="#858048" fill-opacity="0.75"/>
<circle cx="50.82" cy="158.40" r="0.6" fill="#858048" fill-opacity="0.75"/>
<circle cx="31.72" cy="150.69" r="0.6" fill="#858048" fill-opacity="0.75"/>
<circle cx="49.82" cy="161.37" r="0.6" fill="#858048" fill-opacity="0.75"/>
<circle cx="58.31" cy="162.89" r="0.6" fill="#858048" fill-opacity="0.75"/>
<circle cx="53.41" cy="160.56" r="0.6" fill="#858048" fill-opacity="0.75"/>
<circle cx="39.37" cy="154.03" r="0.6" fill="#858048" fill-opacity="0.75"/>
<circle cx="89.10" cy="168.90" r="0.6" fill="#858048" fill-opacity="0.75"/>
<circle cx="72.69" cy="162.43" r="0.6" fill="#858048" fill-opacity="0.75"/>
<circle cx="105.27" cy="170.87" r="0.6" fill="#858048" fill-opacity="0.75"/>
<circle cx="44.19" cy="160.14" r="0.6" fill="#858048" fill-opacity="0.75"/>
<circle cx="92.59" cy="168.71" r="0.6" fill="#858048" fill-opacity="0.75"/>
<circle cx="38.94" cy="157.06" r="0.6" fill="#858048" fill-opacity="0.75"/>
<circle cx="87.42" cy="166.74" r="0.6" fill="#858048" fill-opacity="0.75"/>
<circle cx="58.04" cy="161.96" r="0.6" fill="#858048" fill-opacity="0.75"/>
<circle cx="66.87" cy="166.03" r="0.6" fill="#858048" fill-opacity="0.75"/>
<circle cx="26.02" cy="152.62" r="0.6" fill="#858048" fill-opacity="0.75"/>
<circle cx="65.09" cy="164.63" r="0.6" fill="#858048" fill-opacity="0.75"/>
<circle cx="32.54" cy="151.15" r="0.6" fill="#858048" fill-opacity="0.75"/>
<circle cx="44.87" cy="160.40" r="0.6" fill="#858048" fill-opacity="0.75"/>
<circle cx="101.31" cy="169.43" r="0.6" fill="#858048" fill-opacity="0.75"/>
<circle cx="100.76" cy="168.09" r="0.6" fill="#858048" fill-opacity="0.75"/>
<circle cx="88.49" cy="169.96" r="0.6" fill="#858048" fill-opacity="0.75"/>
<circle cx="53.37" cy="161.61" r="0.6" fill="#858048" fill-opacity="0.75"/>
<circle cx="59.14" cy="164.17" r="0.6" fill="#858048" fill-opacity="0.75"/>
<circle cx="108.10" cy="173.89" r="0.6" fill="#858048" fill-opacity="0.75"/>
<circle cx="33.69" cy="155.22" r="0.6" fill="#858048" fill-opacity="0.75"/>
<circle cx="31.12" cy="151.96" r="0.6" fill="#858048" fill-opacity="0.75"/>
<circle cx="28.30" cy="150.54" r="0.6" fill="#858048" fill-opacity="0.75"/>
<circle cx="37.44" cy="154.86" r="0.6" fill="#858048" fill-opacity="0.75"/>
<circle cx="25.03" cy="148.77" r="0.6" fill="#858048" fill-opacity="0.75"/>
<circle cx="44.23" cy="160.02" r="0.6" fill="#858048" fill-opacity="0.75"/>
<circle cx="73.50" cy="165.13" r="0.6" fill="#858048" fill-opacity="0.75"/>
<circle cx="60.93" cy="164.49" r="0.6" fill="#858048" fill-opacity="0.75"/>
<circle cx="93.40" cy="168.01" r="0.6" fill="#858048" fill-opacity="0.75"/>
<circle cx="71.10" cy="165.47" r="0.6" fill="#858048" fill-opacity="0.75"/>
<circle cx="30.96" cy="153.40" r="0.6" fill="#858048" fill-opacity="0.75"/>
<circle cx="96.65" cy="170.75" r="0.6" fill="#858048" fill-opacity="0.75"/>
<circle cx="109.04" cy="172.72" r="0.6" fill="#858048" fill-opacity="0.75"/>
<circle cx="41.53" cy="158.53" r="0.6" fill="#858048" fill-opacity="0.75"/>
<circle cx="64.94" cy="164.10" r="0.6" fill="#858048" fill-opacity="0.75"/>
<circle cx="43.60" cy="159.75" r="0.6" fill="#858048" fill-opacity="0.75"/>
<circle cx="80.48" cy="164.35" r="0.6" fill="#858048" fill-opacity="0.75"/>
<circle cx="91.00" cy="170.61" r="0.6" fill="#858048" fill-opacity="0.75"/>
<circle cx="77.07" cy="164.71" r="0.6" fill="#858048" fill-opacity="0.75"/>
<circle cx="63.21" cy="166.51" r="0.6" fill="#858048" fill-opacity="0.75"/>
<circle cx="76.31" cy="167.46" r="0.6" fill="#858048" fill-opacity="0.75"/>
<circle cx="95.70" cy="170.87" r="0.6" fill="#858048" fill-opacity="0.75"/>
<circle cx="64.85" cy="166.28" r="0.6" fill="#858048" fill-opacity="0.75"/>
<circle cx="88.06" cy="170.05" r="0.6" fill="#858048" fill-opacity="0.75"/>
<circle cx="66.64" cy="165.31" r="0.6" fill="#858048" fill-opacity="0.75"/>
<circle cx="30.29" cy="149.85" r="0.6" fill="#858048" fill-opacity="0.75"/>
<circle cx="61.21" cy="163.33" r="0.6" fill="#858048" fill-opacity="0.75"/>
<circle cx="81.06" cy="165.55" r="0.6" fill="#858048" fill-opacity="0.75"/>
<circle cx="54.85" cy="161.81" r="0.6" fill="#858048" fill-opacity="0.75"/>
<circle cx="111.63" cy="172.13" r="0.6" fill="#858048" fill-opacity="0.75"/>
<circle cx="31.41" cy="154.14" r="0.6" fill="#858048" fill-opacity="0.75"/>
<circle cx="43.17" cy="160.37" r="0.6" fill="#858048" fill-opacity="0.75"/>
<circle cx="87.92" cy="171.76" r="0.6" fill="#858048" fill-opacity="0.75"/>
<circle cx="100.98" cy="173.22" r="0.6" fill="#858048" fill-opacity="0.75"/>
<circle cx="105.96" cy="171.82" r="0.6" fill="#858048" fill-opacity="0.75"/>
<circle cx="71.14" cy="161.93" r="0.6" fill="#858048" fill-opacity="0.75"/>
<circle cx="103.47" cy="173.36" r="0.6" fill="#858048" fill-opacity="0.75"/>
<circle cx="107.57" cy="169.69" r="0.6" fill="#858048" fill-opacity="0.75"/>
<circle cx="59.81" cy="164.20" r="0.6" fill="#858048" fill-opacity="0.75"/>
<circle cx="111.76" cy="174.05" r="0.6" fill="#858048" fill-opacity="0.75"/>
<circle cx="106.21" cy="171.44" r="0.6" fill="#858048" fill-opacity="0.75"/>
<circle cx="40.24" cy="159.56" r="0.6" fill="#858048" fill-opacity="0.75"/>
<circle cx="49.90" cy="162.32" r="0.6" fill="#858048" fill-opacity="0.75"/>
<circle cx="69.71" cy="164.69" r="0.6" fill="#858048" fill-opacity="0.75"/>
<circle cx="89.58" cy="169.02" r="0.6" fill="#858048" fill-opacity="0.75"/>
<circle cx="48.29" cy="159.14" r="0.6" fill="#858048" fill-opacity="0.75"/>
<circle cx="89.30" cy="169.82" r="0.6" fill="#858048" fill-opacity="0.75"/>
<circle cx="89.72" cy="169.24" r="0.6" fill="#858048" fill-opacity="0.75"/>
<circle cx="50.34" cy="161.78" r="0.6" fill="#858048" fill-opacity="0.75"/>
<circle cx="60.18" cy="164.78" r="0.6" fill="#858048" fill-opacity="0.75"/>
<circle cx="91.12" cy="170.07" r="0.6" fill="#858048" fill-opacity="0.75"/>
<circle cx="85.64" cy="172.11" r="0.6" fill="#858048" fill-opacity="0.75"/>
<circle cx="101.10" cy="170.57" r="0.6" fill="#858048" fill-opacity="0.75"/>
<circle cx="56.79" cy="163.72" r="0.6" fill="#858048" fill-opacity="0.75"/>
<circle cx="64.76" cy="165.58" r="0.6" fill="#858048" fill-opacity="0.75"/>
<circle cx="70.28" cy="163.66" r="0.6" fill="#858048" fill-opacity="0.75"/>
<circle cx="99.04" cy="170.49" r="0.6" fill="#858048" fill-opacity="0.75"/>
<circle cx="131.97" cy="177.62" r="0.6" fill="#858048" fill-opacity="0.75"/>
<circle cx="164.85" cy="180.36" r="0.6" fill="#858048" fill-opacity="0.75"/>
<circle cx="132.74" cy="178.82" r="0.6" fill="#858048" fill-opacity="0.75"/>
<circle cx="114.63" cy="179.02" r="0.6" fill="#858048" fill-opacity="0.75"/>
<circle cx="122.28" cy="177.67" r="0.6" fill="#858048" fill-opacity="0.75"/>
<circle cx="124.44" cy="178.30" r="0.6" fill="#858048" fill-opacity="0.75"/>
<circle cx="117.17" cy="178.40" r="0.6" fill="#858048" fill-opacity="0.75"/>
<circle cx="143.34" cy="180.11" r="0.6" fill="#858048" fill-opacity="0.75"/>
<circle cx="175.70" cy="180.89" r="0.6" fill="#858048" fill-opacity="0.75"/>
<circle cx="116.21" cy="176.60" r="0.6" fill="#858048" fill-opacity="0.75"/>
<circle cx="125.66" cy="179.06" r="0.6" fill="#858048" fill-opacity="0.75"/>
<circle cx="135.31" cy="178.93" r="0.6" fill="#858048" fill-opacity="0.75"/>
<circle cx="117.23" cy="177.90" r="0.6" fill="#858048" fill-opacity="0.75"/>
<circle cx="133.63" cy="178.74" r="0.6" fill="#858048" fill-opacity="0.75"/>
<circle cx="129.58" cy="178.83" r="0.6" fill="#858048" fill-opacity="0.75"/>
<circle cx="130.40" cy="178.13" r="0.6" fill="#858048" fill-opacity="0.75"/>
<circle cx="116.77" cy="177.42" r="0.6" fill="#858048" fill-opacity="0.75"/>
<circle cx="156.54" cy="180.09" r="0.6" fill="#858048" fill-opacity="0.75"/>
<circle cx="171.49" cy="180.52" r="0.6" fill="#858048" fill-opacity="0.75"/>
<circle cx="122.55" cy="177.97" r="0.6" fill="#858048" fill-opacity="0.75"/>
<circle cx="161.77" cy="180.13" r="0.6" fill="#858048" fill-opacity="0.75"/>
<circle cx="166.35" cy="179.52" r="0.6" fill="#858048" fill-opacity="0.75"/>
<circle cx="148.77" cy="179.37" r="0.6" fill="#858048" fill-opacity="0.75"/>
<circle cx="115.07" cy="178.37" r="0.6" fill="#858048" fill-opacity="0.75"/>
<circle cx="154.51" cy="180.63" r="0.6" fill="#858048" fill-opacity="0.75"/>
<circle cx="143.45" cy="178.49" r="0.6" fill="#858048" fill-opacity="0.75"/>
<circle cx="155.93" cy="180.64" r="0.6" fill="#858048" fill-opacity="0.75"/>
<circle cx="151.97" cy="179.13" r="0.6" fill="#858048" fill-opacity="0.75"/>
<circle cx="140.11" cy="178.74" r="0.6" fill="#858048" fill-opacity="0.75"/>
<circle cx="125.53" cy="178.44" r="0.6" fill="#858048" fill-opacity="0.75"/>
<circle cx="157.08" cy="180.47" r="0.6" fill="#858048" fill-opacity="0.75"/>
<circle cx="139.71" cy="179.03" r="0.6" fill="#858048" fill-opacity="0.75"/>
<circle cx="136.17" cy="177.96" r="0.6" fill="#858048" fill-opacity="0.75"/>
<circle cx="142.51" cy="179.45" r="0.6" fill="#858048" fill-opacity="0.75"/>
<circle cx="174.43" cy="180.76" r="0.6" fill="#858048" fill-opacity="0.75"/>
<circle cx="146.89" cy="179.75" r="0.6" fill="#858048" fill-opacity="0.75"/>
<circle cx="139.95" cy="179.68" r="0.6" fill="#858048" fill-opacity="0.75"/>
<circle cx="172.67" cy="179.59" r="0.6" fill="#858048" fill-opacity="0.75"/>
<circle cx="152.59" cy="180.30" r="0.6" fill="#858048" fill-opacity="0.75"/>
<circle cx="148.63" cy="179.57" r="0.6" fill="#858048" fill-opacity="0.75"/>
<circle cx="144.72" cy="179.11" r="0.6" fill="#858048" fill-opacity="0.75"/>
<circle cx="171.43" cy="181.22" r="0.6" fill="#858048" fill-opacity="0.75"/>
<circle cx="120.45" cy="178.01" r="0.6" fill="#858048" fill-opacity="0.75"/>
<circle cx="146.43" cy="178.88" r="0.6" fill="#858048" fill-opacity="0.75"/>
<circle cx="170.43" cy="181.09" r="0.6" fill="#858048" fill-opacity="0.75"/>
<circle cx="126.29" cy="178.31" r="0.6" fill="#858048" fill-opacity="0.75"/>
<circle cx="172.00" cy="180.62" r="0.6" fill="#858048" fill-opacity="0.75"/>
<circle cx="166.18" cy="180.64" r="0.6" fill="#858048" fill-opacity="0.75"/>
<circle cx="133.92" cy="178.65" r="0.6" fill="#858048" fill-opacity="0.75"/>
<circle cx="173.46" cy="181.79" r="0.6" fill="#858048" fill-opacity="0.75"/>
<circle cx="134.00" cy="178.48" r="0.6" fill="#858048" fill-opacity="0.75"/>
<circle cx="122.29" cy="178.62" r="0.6" fill="#858048" fill-opacity="0.75"/>
<circle cx="129.76" cy="178.87" r="0.6" fill="#858048" fill-opacity="0.75"/>
<circle cx="128.47" cy="178.57" r="0.6" fill="#858048" fill-opacity="0.75"/>
<circle cx="126.60" cy="179.11" r="0.6" fill="#858048" fill-opacity="0.75"/>
<circle cx="160.81" cy="180.25" r="0.6" fill="#858048" fill-opacity="0.75"/>
<circle cx="166.81" cy="179.49" r="0.6" fill="#858048" fill-opacity="0.75"/>
<circle cx="114.34" cy="177.27" r="0.6" fill="#858048" fill-opacity="0.75"/>
<circle cx="131.78" cy="178.94" r="0.6" fill="#858048" fill-opacity="0.75"/>
<circle cx="130.86" cy="178.65" r="0.6" fill="#858048" fill-opacity="0.75"/>
<circle cx="144.42" cy="179.18" r="0.6" fill="#858048" fill-opacity="0.75"/>
<circle cx="116.97" cy="178.81" r="0.6" fill="#858048" fill-opacity="0.75"/>
<circle cx="128.86" cy="178.91" r="0.6" fill="#858048" fill-opacity="0.75"/>
<circle cx="171.05" cy="180.27" r="0.6" fill="#858048" fill-opacity="0.75"/>
<circle cx="125.21" cy="179.29" r="0.6" fill="#858048" fill-opacity="0.75"/>
<circle cx="154.76" cy="179.64" r="0.6" fill="#858048" fill-opacity="0.75"/>
<circle cx="122.96" cy="179.24" r="0.6" fill="#858048" fill-opacity="0.75"/>
<circle cx="125.10" cy="178.77" r="0.6" fill="#858048" fill-opacity="0.75"/>
<circle cx="125.94" cy="178.99" r="0.6" fill="#858048" fill-opacity="0.75"/>
<circle cx="117.07" cy="177.12" r="0.6" fill="#858048" fill-opacity="0.75"/>
<circle cx="174.53" cy="179.97" r="0.6" fill="#858048" fill-opacity="0.75"/>
<circle cx="120.74" cy="178.16" r="0.6" fill="#858048" fill-opacity="0.75"/>
<circle cx="138.56" cy="179.46" r="0.6" fill="#858048" fill-opacity="0.75"/>
<circle cx="122.27" cy="178.31" r="0.6" fill="#858048" fill-opacity="0.75"/>
<circle cx="123.15" cy="178.74" r="0.6" fill="#858048" fill-opacity="0.75"/>
<circle cx="171.64" cy="180.75" r="0.6" fill="#858048" fill-opacity="0.75"/>
<circle cx="118.85" cy="178.66" r="0.6" fill="#858048" fill-opacity="0.75"/>
<circle cx="176.80" cy="181.81" r="0.6" fill="#858048" fill-opacity="0.75"/>
<circle cx="175.74" cy="180.56" r="0.6" fill="#858048" fill-opacity="0.75"/>
<circle cx="173.90" cy="180.99" r="0.6" fill="#858048" fill-opacity="0.75"/>
<circle cx="144.56" cy="179.12" r="0.6" fill="#858048" fill-opacity="0.75"/>
<circle cx="115.34" cy="177.60" r="0.6" fill="#858048" fill-opacity="0.75"/>
<circle cx="135.76" cy="178.89" r="0.6" fill="#858048" fill-opacity="0.75"/>
<circle cx="149.84" cy="178.52" r="0.6" fill="#858048" fill-opacity="0.75"/>
<circle cx="143.24" cy="178.63" r="0.6" fill="#858048" fill-opacity="0.75"/>
<circle cx="147.67" cy="179.25" r="0.6" fill="#858048" fill-opacity="0.75"/>
<circle cx="166.48" cy="180.39" r="0.6" fill="#858048" fill-opacity="0.75"/>
<circle cx="172.77" cy="181.13" r="0.6" fill="#858048" fill-opacity="0.75"/>
<circle cx="167.45" cy="180.81" r="0.6" fill="#858048" fill-opacity="0.75"/>
<circle cx="166.92" cy="181.46" r="0.6" fill="#858048" fill-opacity="0.75"/>
<circle cx="124.58" cy="178.40" r="0.6" fill="#858048" fill-opacity="0.75"/>
<circle cx="117.34" cy="178.51" r="0.6" fill="#858048" fill-opacity="0.75"/>
<circle cx="175.64" cy="179.60" r="0.6" fill="#858048" fill-opacity="0.75"/>
<circle cx="121.22" cy="178.90" r="0.6" fill="#858048" fill-opacity="0.75"/>
<circle cx="114.88" cy="178.70" r="0.6" fill="#858048" fill-opacity="0.75"/>
<circle cx="176.47" cy="179.86" r="0.6" fill="#858048" fill-opacity="0.75"/>
<circle cx="157.18" cy="178.86" r="0.6" fill="#858048" fill-opacity="0.75"/>
<circle cx="119.83" cy="178.09" r="0.6" fill="#858048" fill-opacity="0.75"/>
<circle cx="148.04" cy="179.12" r="0.6" fill="#858048" fill-opacity="0.75"/>
<circle cx="151.82" cy="179.67" r="0.6" fill="#858048" fill-opacity="0.75"/>
<circle cx="134.36" cy="178.31" r="0.6" fill="#858048" fill-opacity="0.75"/>
<circle cx="134.04" cy="178.81" r="0.6" fill="#858048" fill-opacity="0.75"/>
<circle cx="136.58" cy="177.69" r="0.6" fill="#858048" fill-opacity="0.75"/>
<circle cx="172.98" cy="179.52" r="0.6" fill="#858048" fill-opacity="0.75"/>
<circle cx="168.32" cy="180.47" r="0.6" fill="#858048" fill-opacity="0.75"/>
<circle cx="175.53" cy="180.15" r="0.6" fill="#858048" fill-opacity="0.75"/>
<circle cx="130.99" cy="179.17" r="0.6" fill="#858048" fill-opacity="0.75"/>
<circle cx="160.13" cy="180.36" r="0.6" fill="#858048" fill-opacity="0.75"/>
<circle cx="135.48" cy="178.61" r="0.6" fill="#858048" fill-opacity="0.75"/>
<circle cx="174.92" cy="180.16" r="0.6" fill="#858048" fill-opacity="0.75"/>
<circle cx="142.53" cy="178.51" r="0.6" fill="#858048" fill-opacity="0.75"/>
<circle cx="169.12" cy="180.37" r="0.6" fill="#858048" fill-opacity="0.75"/>
<circle cx="176.15" cy="179.98" r="0.6" fill="#858048" fill-opacity="0.75"/>
<circle cx="152.92" cy="179.50" r="0.6" fill="#858048" fill-opacity="0.75"/>
<circle cx="118.36" cy="177.23" r="0.6" fill="#858048" fill-opacity="0.75"/>
<circle cx="162.98" cy="180.50" r="0.6" fill="#858048" fill-opacity="0.75"/>
<circle cx="117.74" cy="178.48" r="0.6" fill="#858048" fill-opacity="0.75"/>
<circle cx="175.82" cy="180.12" r="0.6" fill="#858048" fill-opacity="0.75"/>
<circle cx="137.10" cy="179.11" r="0.6" fill="#858048" fill-opacity="0.75"/>
<circle cx="169.68" cy="180.97" r="0.6" fill="#858048" fill-opacity="0.75"/>
<line x1="22.5" y1="198.6" x2="180.5" y2="198.6" stroke="#707070" stroke-width="0.7"/>
<line x1="22.5" y1="198.6" x2="22.5" y2="117.3" stroke="#707070" stroke-width="0.7"/>
<g transform="translate(22.5 205.9) scale(0.1)"><text x="0" y="0" font-size="50.0" text-anchor="middle" font-weight="normal" fill="#1e1e1e" stroke="#1e1e1e" stroke-width="1.40">0</text></g>
<g transform="translate(38.3 205.9) scale(0.1)"><text x="0" y="0" font-size="50.0" text-anchor="middle" font-weight="normal" fill="#1e1e1e" stroke="#1e1e1e" stroke-width="1.40">100</text></g>
<g transform="translate(54.1 205.9) scale(0.1)"><text x="0" y="0" font-size="50.0" text-anchor="middle" font-weight="normal" fill="#1e1e1e" stroke="#1e1e1e" stroke-width="1.40">200</text></g>
<g transform="translate(69.9 205.9) scale(0.1)"><text x="0" y="0" font-size="50.0" text-anchor="middle" font-weight="normal" fill="#1e1e1e" stroke="#1e1e1e" stroke-width="1.40">300</text></g>
<g transform="translate(85.7 205.9) scale(0.1)"><text x="0" y="0" font-size="50.0" text-anchor="middle" font-weight="normal" fill="#1e1e1e" stroke="#1e1e1e" stroke-width="1.40">400</text></g>
<g transform="translate(101.5 205.9) scale(0.1)"><text x="0" y="0" font-size="50.0" text-anchor="middle" font-weight="normal" fill="#1e1e1e" stroke="#1e1e1e" stroke-width="1.40">500</text></g>
<g transform="translate(117.30000000000001 205.9) scale(0.1)"><text x="0" y="0" font-size="50.0" text-anchor="middle" font-weight="normal" fill="#1e1e1e" stroke="#1e1e1e" stroke-width="1.40">600</text></g>
<g transform="translate(133.10000000000002 205.9) scale(0.1)"><text x="0" y="0" font-size="50.0" text-anchor="middle" font-weight="normal" fill="#1e1e1e" stroke="#1e1e1e" stroke-width="1.40">700</text></g>
<g transform="translate(148.9 205.9) scale(0.1)"><text x="0" y="0" font-size="50.0" text-anchor="middle" font-weight="normal" fill="#1e1e1e" stroke="#1e1e1e" stroke-width="1.40">800</text></g>
<g transform="translate(164.70000000000002 205.9) scale(0.1)"><text x="0" y="0" font-size="50.0" text-anchor="middle" font-weight="normal" fill="#1e1e1e" stroke="#1e1e1e" stroke-width="1.40">900</text></g>
<g transform="translate(180.5 205.9) scale(0.1)"><text x="0" y="0" font-size="50.0" text-anchor="middle" font-weight="normal" fill="#1e1e1e" stroke="#1e1e1e" stroke-width="1.40">1000</text></g>
<g transform="translate(21.5 201.1) scale(0.1)"><text x="0" y="0" font-size="50.0" text-anchor="end" font-weight="normal" fill="#1e1e1e" stroke="#1e1e1e" stroke-width="1.40">0</text></g>
<g transform="translate(21.5 187.54999999999998) scale(0.1)"><text x="0" y="0" font-size="50.0" text-anchor="end" font-weight="normal" fill="#1e1e1e" stroke="#1e1e1e" stroke-width="1.40">20</text></g>
<g transform="translate(21.5 174.0) scale(0.1)"><text x="0" y="0" font-size="50.0" text-anchor="end" font-weight="normal" fill="#1e1e1e" stroke="#1e1e1e" stroke-width="1.40">40</text></g>
<g transform="translate(21.5 160.45) scale(0.1)"><text x="0" y="0" font-size="50.0" text-anchor="end" font-weight="normal" fill="#1e1e1e" stroke="#1e1e1e" stroke-width="1.40">60</text></g>
<g transform="translate(21.5 146.89999999999998) scale(0.1)"><text x="0" y="0" font-size="50.0" text-anchor="end" font-weight="normal" fill="#1e1e1e" stroke="#1e1e1e" stroke-width="1.40">80</text></g>
<g transform="translate(21.5 133.35) scale(0.1)"><text x="0" y="0" font-size="50.0" text-anchor="end" font-weight="normal" fill="#1e1e1e" stroke="#1e1e1e" stroke-width="1.40">100</text></g>
<g transform="translate(21.5 119.79999999999998) scale(0.1)"><text x="0" y="0" font-size="50.0" text-anchor="end" font-weight="normal" fill="#1e1e1e" stroke="#1e1e1e" stroke-width="1.40">120</text></g>
<g transform="translate(100.9 211.2) scale(0.1)"><text x="0" y="0" font-size="56.0" text-anchor="middle" font-weight="normal" fill="#1e1e1e" stroke="#1e1e1e" stroke-width="2.20">Days Post-Implantation</text></g>
<g transform="translate(9.7 157.6) rotate(-90) scale(0.1)"><text x="0" y="0" font-size="55.0" text-anchor="middle" font-weight="normal" fill="#1e1e1e" stroke="#1e1e1e" stroke-width="2.20">Peak-to-peak voltage (μV)</text></g>
<g transform="translate(101.4 115.5) scale(0.1)"><text x="0" y="0" font-size="55.0" text-anchor="middle" font-weight="bold" fill="#111" stroke="#111" stroke-width="0.80">P1 Vpp over time</text></g>
<rect x="150.5" y="118.5" width="27.5" height="12.0" fill="#fff" stroke="#555" stroke-width="0.5"/>
<circle cx="154.50" cy="122.00" r="0.5" fill="#c0b070" fill-opacity="1"/>
<g transform="translate(158 123.5) scale(0.1)"><text x="0" y="0" font-size="43.0" text-anchor="start" font-weight="normal" fill="#111" stroke="#111" stroke-width="0.00">Pt Lateral</text></g>
<circle cx="154.50" cy="127.00" r="0.5" fill="#8a8040" fill-opacity="1"/>
<g transform="translate(158 128.5) scale(0.1)"><text x="0" y="0" font-size="43.0" text-anchor="start" font-weight="normal" fill="#111" stroke="#111" stroke-width="0.00">Pt Medial</text></g>
<g transform="translate(0.8 113.6) scale(0.1)"><text x="0" y="0" font-size="90.0" text-anchor="start" font-weight="bold" fill="#000" stroke="#000" stroke-width="2.20">C</text></g>
<polygon points="248.50,148.00 256.00,144.50 262.00,138.50 270.00,130.00 275.00,126.50 285.00,122.00 290.00,121.50 300.00,126.50 310.00,130.30 320.00,133.30 340.00,135.00 360.00,135.00 384.60,136.50 384.60,156.70 360.00,155.60 345.00,165.00 335.00,172.00 330.00,166.50 320.00,157.00 300.00,156.20 290.00,156.00 280.00,157.50 270.00,167.00 260.00,174.30 248.50,165.00" fill="#b0e2cc" stroke="none"/>
<polygon points="248.50,156.00 256.00,149.50 262.00,144.00 270.00,135.00 280.00,129.00 290.00,126.00 300.00,130.50 310.00,134.50 320.00,137.50 340.00,139.50 360.00,139.20 384.60,139.00 384.60,156.70 360.00,155.60 350.00,158.70 345.00,165.00 340.00,170.50 335.00,172.00 330.00,166.50 325.00,158.70 320.00,156.30 300.00,155.60 290.00,155.00 284.00,156.00 277.00,159.00 270.00,166.00 266.00,171.00 260.00,174.30 257.00,172.30 252.00,167.70 248.50,165.00" fill="#f9b48c" stroke="none"/>
<circle cx="248.60" cy="164.40" r="0.65" fill="#7a4a2a" fill-opacity="0.85"/>
<circle cx="252.00" cy="165.00" r="0.65" fill="#7a4a2a" fill-opacity="0.85"/>
<circle cx="258.00" cy="169.50" r="0.65" fill="#7a4a2a" fill-opacity="0.85"/>
<circle cx="260.50" cy="145.00" r="0.65" fill="#7a4a2a" fill-opacity="0.85"/>
<circle cx="266.00" cy="148.00" r="0.65" fill="#7a4a2a" fill-opacity="0.85"/>
<circle cx="264.00" cy="152.00" r="0.65" fill="#7a4a2a" fill-opacity="0.85"/>
<circle cx="269.00" cy="150.00" r="0.65" fill="#7a4a2a" fill-opacity="0.85"/>
<circle cx="276.00" cy="149.00" r="0.65" fill="#7a4a2a" fill-opacity="0.85"/>
<circle cx="278.00" cy="152.00" r="0.65" fill="#7a4a2a" fill-opacity="0.85"/>
<circle cx="282.00" cy="132.00" r="0.65" fill="#7a4a2a" fill-opacity="0.85"/>
<circle cx="284.00" cy="136.00" r="0.65" fill="#7a4a2a" fill-opacity="0.85"/>
<circle cx="285.00" cy="140.00" r="0.65" fill="#7a4a2a" fill-opacity="0.85"/>
<circle cx="291.00" cy="141.00" r="0.65" fill="#7a4a2a" fill-opacity="0.85"/>
<circle cx="295.00" cy="145.00" r="0.65" fill="#7a4a2a" fill-opacity="0.85"/>
<circle cx="300.00" cy="149.30" r="0.65" fill="#7a4a2a" fill-opacity="0.85"/>
<circle cx="305.00" cy="148.00" r="0.65" fill="#7a4a2a" fill-opacity="0.85"/>
<circle cx="310.00" cy="149.30" r="0.65" fill="#7a4a2a" fill-opacity="0.85"/>
<circle cx="318.00" cy="149.30" r="0.65" fill="#7a4a2a" fill-opacity="0.85"/>
<circle cx="325.00" cy="150.00" r="0.65" fill="#7a4a2a" fill-opacity="0.85"/>
<circle cx="330.00" cy="149.00" r="0.65" fill="#7a4a2a" fill-opacity="0.85"/>
<circle cx="335.00" cy="151.00" r="0.65" fill="#7a4a2a" fill-opacity="0.85"/>
<circle cx="340.00" cy="149.50" r="0.65" fill="#7a4a2a" fill-opacity="0.85"/>
<circle cx="345.00" cy="149.30" r="0.65" fill="#7a4a2a" fill-opacity="0.85"/>
<circle cx="352.00" cy="149.50" r="0.65" fill="#7a4a2a" fill-opacity="0.85"/>
<circle cx="360.00" cy="149.30" r="0.65" fill="#7a4a2a" fill-opacity="0.85"/>
<circle cx="365.00" cy="150.50" r="0.65" fill="#7a4a2a" fill-opacity="0.85"/>
<circle cx="372.00" cy="150.00" r="0.65" fill="#7a4a2a" fill-opacity="0.85"/>
<circle cx="378.00" cy="151.00" r="0.65" fill="#7a4a2a" fill-opacity="0.85"/>
<circle cx="383.00" cy="150.00" r="0.65" fill="#7a4a2a" fill-opacity="0.85"/>
<circle cx="288.00" cy="131.00" r="0.65" fill="#7a4a2a" fill-opacity="0.85"/>
<circle cx="308.00" cy="140.00" r="0.65" fill="#7a4a2a" fill-opacity="0.85"/>
<circle cx="327.00" cy="145.00" r="0.65" fill="#7a4a2a" fill-opacity="0.85"/>
<circle cx="350.00" cy="146.00" r="0.65" fill="#7a4a2a" fill-opacity="0.85"/>
<circle cx="273.00" cy="141.00" r="0.65" fill="#7a4a2a" fill-opacity="0.85"/>
<circle cx="307.20" cy="147.65" r="0.6" fill="#8a5a3a" fill-opacity="0.7"/>
<circle cx="345.03" cy="146.21" r="0.6" fill="#8a5a3a" fill-opacity="0.7"/>
<circle cx="289.58" cy="140.05" r="0.6" fill="#8a5a3a" fill-opacity="0.7"/>
<circle cx="302.87" cy="141.44" r="0.6" fill="#8a5a3a" fill-opacity="0.7"/>
<circle cx="336.98" cy="150.34" r="0.6" fill="#8a5a3a" fill-opacity="0.7"/>
<circle cx="327.90" cy="144.11" r="0.6" fill="#8a5a3a" fill-opacity="0.7"/>
<circle cx="278.69" cy="145.48" r="0.6" fill="#8a5a3a" fill-opacity="0.7"/>
<circle cx="331.98" cy="144.13" r="0.6" fill="#8a5a3a" fill-opacity="0.7"/>
<circle cx="260.01" cy="155.90" r="0.6" fill="#8a5a3a" fill-opacity="0.7"/>
<circle cx="287.20" cy="135.53" r="0.6" fill="#8a5a3a" fill-opacity="0.7"/>
<circle cx="321.74" cy="150.59" r="0.6" fill="#8a5a3a" fill-opacity="0.7"/>
<circle cx="321.14" cy="149.02" r="0.6" fill="#8a5a3a" fill-opacity="0.7"/>
<circle cx="360.84" cy="150.27" r="0.6" fill="#8a5a3a" fill-opacity="0.7"/>
<circle cx="372.26" cy="147.29" r="0.6" fill="#8a5a3a" fill-opacity="0.7"/>
<circle cx="341.13" cy="144.16" r="0.6" fill="#8a5a3a" fill-opacity="0.7"/>
<circle cx="367.80" cy="146.73" r="0.6" fill="#8a5a3a" fill-opacity="0.7"/>
<circle cx="313.17" cy="149.02" r="0.6" fill="#8a5a3a" fill-opacity="0.7"/>
<circle cx="287.71" cy="137.26" r="0.6" fill="#8a5a3a" fill-opacity="0.7"/>
<circle cx="360.18" cy="148.36" r="0.6" fill="#8a5a3a" fill-opacity="0.7"/>
<circle cx="260.45" cy="151.80" r="0.6" fill="#8a5a3a" fill-opacity="0.7"/>
<circle cx="296.42" cy="135.48" r="0.6" fill="#8a5a3a" fill-opacity="0.7"/>
<circle cx="361.38" cy="145.07" r="0.6" fill="#8a5a3a" fill-opacity="0.7"/>
<circle cx="286.01" cy="140.91" r="0.6" fill="#8a5a3a" fill-opacity="0.7"/>
<circle cx="318.08" cy="145.91" r="0.6" fill="#8a5a3a" fill-opacity="0.7"/>
<circle cx="333.87" cy="148.52" r="0.6" fill="#8a5a3a" fill-opacity="0.7"/>
<circle cx="307.89" cy="139.93" r="0.6" fill="#8a5a3a" fill-opacity="0.7"/>
<circle cx="381.18" cy="149.35" r="0.6" fill="#8a5a3a" fill-opacity="0.7"/>
<circle cx="260.28" cy="157.53" r="0.6" fill="#8a5a3a" fill-opacity="0.7"/>
<circle cx="350.73" cy="151.42" r="0.6" fill="#8a5a3a" fill-opacity="0.7"/>
<circle cx="257.91" cy="152.37" r="0.6" fill="#8a5a3a" fill-opacity="0.7"/>
<line x1="240.1" y1="198.5" x2="397.5" y2="198.5" stroke="#707070" stroke-width="0.7"/>
<line x1="240.1" y1="198.5" x2="240.1" y2="117.3" stroke="#707070" stroke-width="0.7"/>
<g transform="translate(240.1 205.8) scale(0.1)"><text x="0" y="0" font-size="48.0" text-anchor="middle" font-weight="normal" fill="#1e1e1e" stroke="#1e1e1e" stroke-width="1.40">0</text></g>
<g transform="translate(264.32 205.8) scale(0.1)"><text x="0" y="0" font-size="48.0" text-anchor="middle" font-weight="normal" fill="#1e1e1e" stroke="#1e1e1e" stroke-width="1.40">20</text></g>
<g transform="translate(288.53999999999996 205.8) scale(0.1)"><text x="0" y="0" font-size="48.0" text-anchor="middle" font-weight="normal" fill="#1e1e1e" stroke="#1e1e1e" stroke-width="1.40">40</text></g>
<g transform="translate(312.76 205.8) scale(0.1)"><text x="0" y="0" font-size="48.0" text-anchor="middle" font-weight="normal" fill="#1e1e1e" stroke="#1e1e1e" stroke-width="1.40">60</text></g>
<g transform="translate(336.98 205.8) scale(0.1)"><text x="0" y="0" font-size="48.0" text-anchor="middle" font-weight="normal" fill="#1e1e1e" stroke="#1e1e1e" stroke-width="1.40">80</text></g>
<g transform="translate(361.2 205.8) scale(0.1)"><text x="0" y="0" font-size="48.0" text-anchor="middle" font-weight="normal" fill="#1e1e1e" stroke="#1e1e1e" stroke-width="1.40">100</text></g>
<g transform="translate(385.41999999999996 205.8) scale(0.1)"><text x="0" y="0" font-size="48.0" text-anchor="middle" font-weight="normal" fill="#1e1e1e" stroke="#1e1e1e" stroke-width="1.40">120</text></g>
<g transform="translate(239.1 201.0) scale(0.1)"><text x="0" y="0" font-size="48.0" text-anchor="end" font-weight="normal" fill="#1e1e1e" stroke="#1e1e1e" stroke-width="1.40">0</text></g>
<g transform="translate(239.1 187.47) scale(0.1)"><text x="0" y="0" font-size="48.0" text-anchor="end" font-weight="normal" fill="#1e1e1e" stroke="#1e1e1e" stroke-width="1.40">20</text></g>
<g transform="translate(239.1 173.94) scale(0.1)"><text x="0" y="0" font-size="48.0" text-anchor="end" font-weight="normal" fill="#1e1e1e" stroke="#1e1e1e" stroke-width="1.40">40</text></g>
<g transform="translate(239.1 160.41) scale(0.1)"><text x="0" y="0" font-size="48.0" text-anchor="end" font-weight="normal" fill="#1e1e1e" stroke="#1e1e1e" stroke-width="1.40">60</text></g>
<g transform="translate(239.1 146.88) scale(0.1)"><text x="0" y="0" font-size="48.0" text-anchor="end" font-weight="normal" fill="#1e1e1e" stroke="#1e1e1e" stroke-width="1.40">80</text></g>
<g transform="translate(239.1 133.35000000000002) scale(0.1)"><text x="0" y="0" font-size="48.0" text-anchor="end" font-weight="normal" fill="#1e1e1e" stroke="#1e1e1e" stroke-width="1.40">100</text></g>
<g transform="translate(239.1 119.82000000000001) scale(0.1)"><text x="0" y="0" font-size="48.0" text-anchor="end" font-weight="normal" fill="#1e1e1e" stroke="#1e1e1e" stroke-width="1.40">120</text></g>
<g transform="translate(318.4 211.2) scale(0.1)"><text x="0" y="0" font-size="56.0" text-anchor="middle" font-weight="normal" fill="#1e1e1e" stroke="#1e1e1e" stroke-width="2.20">Days Post-Implantation</text></g>
<g transform="translate(227.2 156.6) rotate(-90) scale(0.1)"><text x="0" y="0" font-size="51.0" text-anchor="middle" font-weight="normal" fill="#1e1e1e" stroke="#1e1e1e" stroke-width="2.20">Peak-to-peak voltage (μV)</text></g>
<g transform="translate(318.75 115.5) scale(0.1)"><text x="0" y="0" font-size="55.0" text-anchor="middle" font-weight="bold" fill="#111" stroke="#111" stroke-width="0.80">P2 Vpp over time</text></g>
<rect x="363.4" y="118.75" width="32.60000000000002" height="21.349999999999994" fill="#fff" stroke="#555" stroke-width="0.5"/>
<circle cx="367.60" cy="121.90" r="0.5" fill="#80c090" fill-opacity="1"/>
<g transform="translate(371.3 123.4) scale(0.1)"><text x="0" y="0" font-size="43.0" text-anchor="start" font-weight="normal" fill="#111" stroke="#111" stroke-width="0.00">Pt Lateral</text></g>
<circle cx="367.60" cy="126.95" r="0.5" fill="#5aa080" fill-opacity="1"/>
<g transform="translate(371.3 128.45) scale(0.1)"><text x="0" y="0" font-size="43.0" text-anchor="start" font-weight="normal" fill="#111" stroke="#111" stroke-width="0.00">Pt Medial</text></g>
<circle cx="367.60" cy="132.00" r="0.5" fill="#d08060" fill-opacity="1"/>
<g transform="translate(371.3 133.5) scale(0.1)"><text x="0" y="0" font-size="43.0" text-anchor="start" font-weight="normal" fill="#111" stroke="#111" stroke-width="0.00">IrOx Lateral</text></g>
<circle cx="367.60" cy="137.05" r="0.5" fill="#e09070" fill-opacity="1"/>
<g transform="translate(371.3 138.55) scale(0.1)"><text x="0" y="0" font-size="43.0" text-anchor="start" font-weight="normal" fill="#111" stroke="#111" stroke-width="0.00">IrOx Medial</text></g>
<g transform="translate(218.75 110.7) scale(0.1)"><text x="0" y="0" font-size="90.0" text-anchor="start" font-weight="bold" fill="#000" stroke="#000" stroke-width="2.20">D</text></g>
<polygon points="46.40,225.00 71.30,243.80 82.60,252.60 100.00,255.00 120.00,258.00 140.00,260.00 150.00,270.00 167.00,272.00 167.00,287.00 120.00,284.00 100.00,274.00 80.00,270.00 66.00,268.00 60.00,266.00 48.00,262.00 46.40,240.00" fill="#a555b9" fill-opacity="0.5" stroke="none"/>
<polygon points="38.30,230.00 42.70,227.50 45.00,233.00 51.00,247.00 59.50,236.00 63.00,258.00 66.00,250.00 71.00,243.00 74.40,229.40 77.00,237.00 80.00,236.50 95.70,238.00 97.50,258.00 99.50,245.60 110.00,248.00 120.00,255.50 134.00,243.30 138.80,241.40 143.50,256.50 147.30,250.80 154.50,259.00 158.60,245.20 166.10,245.20 166.10,269.70 150.00,267.00 130.00,266.00 110.00,265.00 96.00,261.00 80.00,259.00 68.00,262.00 62.00,268.00 51.50,287.40 42.00,260.00 38.30,245.00" fill="#239bcd" fill-opacity="0.5" stroke="none"/>
<polygon points="38.20,239.00 40.20,262.00 52.70,292.00 63.70,270.00 64.00,265.00 70.00,260.00 80.00,252.00 96.00,253.00 105.00,262.00 120.00,268.00 131.30,260.20 140.70,258.40 148.20,262.00 153.00,266.00 160.00,265.00 170.00,265.00 170.00,288.00 165.00,289.00 150.00,292.00 140.00,290.00 125.00,289.00 112.00,285.00 100.00,292.50 92.00,292.00 80.00,290.60 70.00,291.00 62.00,293.00 55.00,299.00 48.00,299.50 40.00,299.00 38.20,295.00" fill="#f5414b" fill-opacity="0.5" stroke="none"/>
<circle cx="38.00" cy="251.00" r="0.6" fill="#3a3a5a" fill-opacity="0.8"/>
<circle cx="41.00" cy="262.00" r="0.6" fill="#3a3a5a" fill-opacity="0.8"/>
<circle cx="45.00" cy="242.00" r="0.6" fill="#3a3a5a" fill-opacity="0.8"/>
<circle cx="48.00" cy="232.00" r="0.6" fill="#3a3a5a" fill-opacity="0.8"/>
<circle cx="53.00" cy="270.00" r="0.6" fill="#3a3a5a" fill-opacity="0.8"/>
<circle cx="57.00" cy="276.00" r="0.6" fill="#3a3a5a" fill-opacity="0.8"/>
<circle cx="50.00" cy="287.00" r="0.6" fill="#3a3a5a" fill-opacity="0.8"/>
<circle cx="55.00" cy="297.00" r="0.6" fill="#3a3a5a" fill-opacity="0.8"/>
<circle cx="47.00" cy="296.00" r="0.6" fill="#3a3a5a" fill-opacity="0.8"/>
<circle cx="62.00" cy="282.00" r="0.6" fill="#3a3a5a" fill-opacity="0.8"/>
<circle cx="66.00" cy="287.00" r="0.6" fill="#3a3a5a" fill-opacity="0.8"/>
<circle cx="72.00" cy="244.00" r="0.6" fill="#3a3a5a" fill-opacity="0.8"/>
<circle cx="75.00" cy="263.00" r="0.6" fill="#3a3a5a" fill-opacity="0.8"/>
<circle cx="79.00" cy="267.00" r="0.6" fill="#3a3a5a" fill-opacity="0.8"/>
<circle cx="85.00" cy="251.00" r="0.6" fill="#3a3a5a" fill-opacity="0.8"/>
<circle cx="88.00" cy="258.00" r="0.6" fill="#3a3a5a" fill-opacity="0.8"/>
<circle cx="93.00" cy="247.00" r="0.6" fill="#3a3a5a" fill-opacity="0.8"/>
<circle cx="100.00" cy="260.00" r="0.6" fill="#3a3a5a" fill-opacity="0.8"/>
<circle cx="104.00" cy="266.00" r="0.6" fill="#3a3a5a" fill-opacity="0.8"/>
<circle cx="110.00" cy="275.00" r="0.6" fill="#3a3a5a" fill-opacity="0.8"/>
<circle cx="115.00" cy="262.00" r="0.6" fill="#3a3a5a" fill-opacity="0.8"/>
<circle cx="120.00" cy="256.00" r="0.6" fill="#3a3a5a" fill-opacity="0.8"/>
<circle cx="127.00" cy="279.00" r="0.6" fill="#3a3a5a" fill-opacity="0.8"/>
<circle cx="132.00" cy="270.00" r="0.6" fill="#3a3a5a" fill-opacity="0.8"/>
<circle cx="140.00" cy="250.00" r="0.6" fill="#3a3a5a" fill-opacity="0.8"/>
<circle cx="145.00" cy="261.00" r="0.6" fill="#3a3a5a" fill-opacity="0.8"/>
<circle cx="150.00" cy="276.00" r="0.6" fill="#3a3a5a" fill-opacity="0.8"/>
<circle cx="155.00" cy="268.00" r="0.6" fill="#3a3a5a" fill-opacity="0.8"/>
<circle cx="160.00" cy="252.00" r="0.6" fill="#3a3a5a" fill-opacity="0.8"/>
<circle cx="165.00" cy="258.00" r="0.6" fill="#3a3a5a" fill-opacity="0.8"/>
<circle cx="167.00" cy="282.00" r="0.6" fill="#3a3a5a" fill-opacity="0.8"/>
<circle cx="43.00" cy="229.00" r="0.6" fill="#3a3a5a" fill-opacity="0.8"/>
<circle cx="70.00" cy="280.00" r="0.6" fill="#3a3a5a" fill-opacity="0.8"/>
<circle cx="90.00" cy="285.00" r="0.6" fill="#3a3a5a" fill-opacity="0.8"/>
<circle cx="135.00" cy="283.00" r="0.6" fill="#3a3a5a" fill-opacity="0.8"/>
<circle cx="99.43" cy="253.78" r="0.6" fill="#2a5a80" fill-opacity="0.8"/>
<circle cx="152.48" cy="263.54" r="0.6" fill="#2a5a80" fill-opacity="0.8"/>
<circle cx="80.44" cy="247.64" r="0.6" fill="#2a5a80" fill-opacity="0.8"/>
<circle cx="112.61" cy="262.42" r="0.6" fill="#2a5a80" fill-opacity="0.8"/>
<circle cx="63.85" cy="244.70" r="0.6" fill="#2a5a80" fill-opacity="0.8"/>
<circle cx="49.32" cy="249.37" r="0.6" fill="#2a5a80" fill-opacity="0.8"/>
<circle cx="41.40" cy="255.80" r="0.6" fill="#2a5a80" fill-opacity="0.8"/>
<circle cx="105.04" cy="257.27" r="0.6" fill="#2a5a80" fill-opacity="0.8"/>
<circle cx="48.92" cy="240.74" r="0.6" fill="#2a5a80" fill-opacity="0.8"/>
<circle cx="98.00" cy="258.80" r="0.6" fill="#2a5a80" fill-opacity="0.8"/>
<circle cx="107.00" cy="254.74" r="0.6" fill="#2a5a80" fill-opacity="0.8"/>
<circle cx="163.71" cy="260.56" r="0.6" fill="#2a5a80" fill-opacity="0.8"/>
<circle cx="105.63" cy="253.35" r="0.6" fill="#2a5a80" fill-opacity="0.8"/>
<circle cx="76.22" cy="254.53" r="0.6" fill="#2a5a80" fill-opacity="0.8"/>
<circle cx="55.01" cy="247.18" r="0.6" fill="#2a5a80" fill-opacity="0.8"/>
<circle cx="117.36" cy="258.95" r="0.6" fill="#2a5a80" fill-opacity="0.8"/>
<circle cx="145.48" cy="283.47" r="0.6" fill="#a03048" fill-opacity="0.8"/>
<circle cx="154.90" cy="280.79" r="0.6" fill="#a03048" fill-opacity="0.8"/>
<circle cx="85.58" cy="262.75" r="0.6" fill="#a03048" fill-opacity="0.8"/>
<circle cx="109.88" cy="271.60" r="0.6" fill="#a03048" fill-opacity="0.8"/>
<circle cx="84.55" cy="284.08" r="0.6" fill="#a03048" fill-opacity="0.8"/>
<circle cx="86.90" cy="282.66" r="0.6" fill="#a03048" fill-opacity="0.8"/>
<circle cx="163.39" cy="272.80" r="0.6" fill="#a03048" fill-opacity="0.8"/>
<circle cx="160.84" cy="276.28" r="0.6" fill="#a03048" fill-opacity="0.8"/>
<circle cx="86.47" cy="265.83" r="0.6" fill="#a03048" fill-opacity="0.8"/>
<circle cx="68.00" cy="277.29" r="0.6" fill="#a03048" fill-opacity="0.8"/>
<circle cx="104.74" cy="283.17" r="0.6" fill="#a03048" fill-opacity="0.8"/>
<circle cx="152.30" cy="271.73" r="0.6" fill="#a03048" fill-opacity="0.8"/>
<circle cx="106.54" cy="272.30" r="0.6" fill="#a03048" fill-opacity="0.8"/>
<circle cx="82.83" cy="268.45" r="0.6" fill="#a03048" fill-opacity="0.8"/>
<circle cx="91.92" cy="278.69" r="0.6" fill="#a03048" fill-opacity="0.8"/>
<circle cx="100.06" cy="262.82" r="0.6" fill="#a03048" fill-opacity="0.8"/>
<circle cx="87.36" cy="272.43" r="0.6" fill="#a03048" fill-opacity="0.8"/>
<circle cx="123.87" cy="273.97" r="0.6" fill="#a03048" fill-opacity="0.8"/>
<circle cx="138.16" cy="273.68" r="0.6" fill="#a03048" fill-opacity="0.8"/>
<circle cx="135.11" cy="279.47" r="0.6" fill="#a03048" fill-opacity="0.8"/>
<circle cx="82.63" cy="281.14" r="0.6" fill="#a03048" fill-opacity="0.8"/>
<circle cx="105.79" cy="275.69" r="0.6" fill="#a03048" fill-opacity="0.8"/>
<line x1="26.2" y1="304.5" x2="183.6" y2="304.5" stroke="#707070" stroke-width="0.7"/>
<line x1="26.2" y1="304.5" x2="26.2" y2="222.9" stroke="#707070" stroke-width="0.7"/>
<g transform="translate(26.2 311.8) scale(0.1)"><text x="0" y="0" font-size="48.0" text-anchor="middle" font-weight="normal" fill="#1e1e1e" stroke="#1e1e1e" stroke-width="1.40">0</text></g>
<g transform="translate(59.3 311.8) scale(0.1)"><text x="0" y="0" font-size="48.0" text-anchor="middle" font-weight="normal" fill="#1e1e1e" stroke="#1e1e1e" stroke-width="1.40">20</text></g>
<g transform="translate(92.4 311.8) scale(0.1)"><text x="0" y="0" font-size="48.0" text-anchor="middle" font-weight="normal" fill="#1e1e1e" stroke="#1e1e1e" stroke-width="1.40">40</text></g>
<g transform="translate(125.50000000000001 311.8) scale(0.1)"><text x="0" y="0" font-size="48.0" text-anchor="middle" font-weight="normal" fill="#1e1e1e" stroke="#1e1e1e" stroke-width="1.40">60</text></g>
<g transform="translate(158.6 311.8) scale(0.1)"><text x="0" y="0" font-size="48.0" text-anchor="middle" font-weight="normal" fill="#1e1e1e" stroke="#1e1e1e" stroke-width="1.40">80</text></g>
<g transform="translate(25.2 307.0) scale(0.1)"><text x="0" y="0" font-size="48.0" text-anchor="end" font-weight="normal" fill="#1e1e1e" stroke="#1e1e1e" stroke-width="1.40">0</text></g>
<g transform="translate(25.2 286.6) scale(0.1)"><text x="0" y="0" font-size="48.0" text-anchor="end" font-weight="normal" fill="#1e1e1e" stroke="#1e1e1e" stroke-width="1.40">500</text></g>
<g transform="translate(25.2 266.2) scale(0.1)"><text x="0" y="0" font-size="48.0" text-anchor="end" font-weight="normal" fill="#1e1e1e" stroke="#1e1e1e" stroke-width="1.40">1000</text></g>
<g transform="translate(25.2 245.8) scale(0.1)"><text x="0" y="0" font-size="48.0" text-anchor="end" font-weight="normal" fill="#1e1e1e" stroke="#1e1e1e" stroke-width="1.40">1500</text></g>
<g transform="translate(25.2 225.4) scale(0.1)"><text x="0" y="0" font-size="48.0" text-anchor="end" font-weight="normal" fill="#1e1e1e" stroke="#1e1e1e" stroke-width="1.40">2000</text></g>
<g transform="translate(104.7 317.2) scale(0.1)"><text x="0" y="0" font-size="56.0" text-anchor="middle" font-weight="normal" fill="#1e1e1e" stroke="#1e1e1e" stroke-width="2.20">Days Post-Implantation</text></g>
<g transform="translate(10.6 264.3) rotate(-90) scale(0.1)"><text x="0" y="0" font-size="55.0" text-anchor="middle" font-weight="normal" fill="#1e1e1e" stroke="#1e1e1e" stroke-width="2.20">1kHz impedances (kOhms)</text></g>
<rect x="158.2" y="223.9" width="24.30000000000001" height="17.299999999999983" fill="#fff" stroke="#555" stroke-width="0.5"/>
<circle cx="162.00" cy="227.20" r="0.5" fill="#5a8ab0" fill-opacity="1"/>
<g transform="translate(165.3 228.7) scale(0.1)"><text x="0" y="0" font-size="43.0" text-anchor="start" font-weight="normal" fill="#111" stroke="#111" stroke-width="0.00">P1 Pt</text></g>
<circle cx="162.00" cy="232.40" r="0.5" fill="#d06070" fill-opacity="1"/>
<g transform="translate(165.3 233.9) scale(0.1)"><text x="0" y="0" font-size="43.0" text-anchor="start" font-weight="normal" fill="#111" stroke="#111" stroke-width="0.00">P2 Pt</text></g>
<circle cx="162.00" cy="237.60" r="0.5" fill="#8060a0" fill-opacity="1"/>
<g transform="translate(165.3 239.1) scale(0.1)"><text x="0" y="0" font-size="43.0" text-anchor="start" font-weight="normal" fill="#111" stroke="#111" stroke-width="0.00">P2 IrOx</text></g>
<g transform="translate(0.8 218.3) scale(0.1)"><text x="0" y="0" font-size="90.0" text-anchor="start" font-weight="bold" fill="#000" stroke="#000" stroke-width="2.20">E</text></g>
<polygon points="248.30,255.00 255.00,248.00 262.00,241.00 270.00,235.50 280.00,231.50 295.00,229.50 310.00,232.50 325.00,235.00 345.00,238.00 365.00,240.50 387.70,242.50 387.70,262.50 345.00,263.50 320.00,263.00 300.00,265.00 290.00,265.50 280.00,265.50 270.00,268.00 262.00,274.00 257.00,278.00 248.30,272.00" fill="#c8e6f0" stroke="none"/>
<polygon points="275.00,262.00 290.00,260.00 305.00,259.00 315.00,262.00 315.00,265.00 300.00,266.00 285.00,266.50 275.00,266.00" fill="#d0c4e6" stroke="none"/>
<polygon points="248.30,259.50 253.00,253.00 258.00,248.00 262.00,243.50 270.00,238.00 280.00,232.50 288.00,229.00 295.00,229.50 305.00,234.00 315.00,237.50 330.00,240.00 345.00,242.00 365.00,243.50 387.70,245.50 387.70,261.00 370.00,262.50 355.00,264.00 345.00,266.40 336.00,272.00 330.00,272.00 322.00,265.00 312.00,262.50 300.00,262.00 290.00,262.50 280.00,264.50 270.00,269.00 262.00,276.00 257.00,279.10 252.00,277.00 248.30,273.60" fill="#f2ccd4" stroke="none"/>
<polygon points="262.00,250.00 280.00,244.00 290.00,242.00 300.00,244.00 320.00,248.00 345.00,250.00 387.70,250.00 387.70,259.00 345.00,262.00 320.00,262.00 300.00,260.00 280.00,262.00 262.00,272.00" fill="#c080a0" fill-opacity="0.12" stroke="none"/>
<circle cx="331.49" cy="245.21" r="0.55" fill="#905070" fill-opacity="0.75"/>
<circle cx="256.73" cy="258.00" r="0.55" fill="#905070" fill-opacity="0.75"/>
<circle cx="357.56" cy="250.93" r="0.55" fill="#905070" fill-opacity="0.75"/>
<circle cx="328.90" cy="244.64" r="0.55" fill="#905070" fill-opacity="0.75"/>
<circle cx="286.05" cy="251.07" r="0.55" fill="#905070" fill-opacity="0.75"/>
<circle cx="279.62" cy="245.55" r="0.55" fill="#905070" fill-opacity="0.75"/>
<circle cx="361.81" cy="251.65" r="0.55" fill="#905070" fill-opacity="0.75"/>
<circle cx="386.38" cy="248.65" r="0.55" fill="#905070" fill-opacity="0.75"/>
<circle cx="315.67" cy="249.92" r="0.55" fill="#905070" fill-opacity="0.75"/>
<circle cx="295.76" cy="252.13" r="0.55" fill="#905070" fill-opacity="0.75"/>
<circle cx="350.06" cy="246.76" r="0.55" fill="#905070" fill-opacity="0.75"/>
<circle cx="321.87" cy="246.80" r="0.55" fill="#905070" fill-opacity="0.75"/>
<circle cx="366.42" cy="244.21" r="0.55" fill="#905070" fill-opacity="0.75"/>
<circle cx="368.11" cy="249.17" r="0.55" fill="#905070" fill-opacity="0.75"/>
<circle cx="310.64" cy="242.79" r="0.55" fill="#905070" fill-opacity="0.75"/>
<circle cx="362.69" cy="248.67" r="0.55" fill="#905070" fill-opacity="0.75"/>
<circle cx="277.03" cy="254.42" r="0.55" fill="#905070" fill-opacity="0.75"/>
<circle cx="325.26" cy="250.99" r="0.55" fill="#905070" fill-opacity="0.75"/>
<circle cx="290.78" cy="252.68" r="0.55" fill="#905070" fill-opacity="0.75"/>
<circle cx="323.72" cy="243.11" r="0.55" fill="#905070" fill-opacity="0.75"/>
<circle cx="385.40" cy="251.90" r="0.55" fill="#905070" fill-opacity="0.75"/>
<circle cx="289.20" cy="240.86" r="0.55" fill="#905070" fill-opacity="0.75"/>
<circle cx="250.49" cy="265.73" r="0.55" fill="#905070" fill-opacity="0.75"/>
<circle cx="297.39" cy="242.01" r="0.55" fill="#905070" fill-opacity="0.75"/>
<circle cx="315.07" cy="245.08" r="0.55" fill="#905070" fill-opacity="0.75"/>
<circle cx="345.27" cy="247.02" r="0.55" fill="#905070" fill-opacity="0.75"/>
<circle cx="326.63" cy="246.46" r="0.55" fill="#905070" fill-opacity="0.75"/>
<circle cx="325.44" cy="248.82" r="0.55" fill="#905070" fill-opacity="0.75"/>
<circle cx="293.12" cy="246.72" r="0.55" fill="#905070" fill-opacity="0.75"/>
<circle cx="303.43" cy="245.14" r="0.55" fill="#905070" fill-opacity="0.75"/>
<circle cx="276.08" cy="245.93" r="0.55" fill="#905070" fill-opacity="0.75"/>
<circle cx="263.75" cy="255.97" r="0.55" fill="#905070" fill-opacity="0.75"/>
<circle cx="256.56" cy="258.59" r="0.55" fill="#905070" fill-opacity="0.75"/>
<circle cx="318.70" cy="247.84" r="0.55" fill="#905070" fill-opacity="0.75"/>
<circle cx="272.07" cy="254.48" r="0.55" fill="#905070" fill-opacity="0.75"/>
<circle cx="376.40" cy="251.30" r="0.55" fill="#905070" fill-opacity="0.75"/>
<circle cx="368.86" cy="245.07" r="0.55" fill="#905070" fill-opacity="0.75"/>
<circle cx="258.12" cy="258.71" r="0.55" fill="#905070" fill-opacity="0.75"/>
<circle cx="287.14" cy="243.18" r="0.55" fill="#905070" fill-opacity="0.75"/>
<circle cx="265.17" cy="260.72" r="0.55" fill="#905070" fill-opacity="0.75"/>
<circle cx="379.82" cy="245.10" r="0.55" fill="#905070" fill-opacity="0.75"/>
<circle cx="285.19" cy="247.59" r="0.55" fill="#905070" fill-opacity="0.75"/>
<circle cx="381.83" cy="250.62" r="0.55" fill="#905070" fill-opacity="0.75"/>
<circle cx="319.48" cy="251.78" r="0.55" fill="#905070" fill-opacity="0.75"/>
<circle cx="276.53" cy="251.36" r="0.55" fill="#905070" fill-opacity="0.75"/>
<circle cx="358.13" cy="258.39" r="0.55" fill="#905070" fill-opacity="0.75"/>
<circle cx="350.22" cy="249.51" r="0.55" fill="#905070" fill-opacity="0.75"/>
<circle cx="346.09" cy="247.21" r="0.55" fill="#905070" fill-opacity="0.75"/>
<circle cx="352.57" cy="248.85" r="0.55" fill="#905070" fill-opacity="0.75"/>
<circle cx="383.47" cy="252.69" r="0.55" fill="#905070" fill-opacity="0.75"/>
<circle cx="294.09" cy="247.24" r="0.55" fill="#905070" fill-opacity="0.75"/>
<circle cx="341.07" cy="245.92" r="0.55" fill="#905070" fill-opacity="0.75"/>
<circle cx="286.18" cy="243.37" r="0.55" fill="#905070" fill-opacity="0.75"/>
<circle cx="369.10" cy="248.40" r="0.55" fill="#905070" fill-opacity="0.75"/>
<circle cx="351.79" cy="242.90" r="0.55" fill="#905070" fill-opacity="0.75"/>
<circle cx="308.02" cy="247.22" r="0.55" fill="#905070" fill-opacity="0.75"/>
<circle cx="359.99" cy="248.19" r="0.55" fill="#905070" fill-opacity="0.75"/>
<circle cx="329.82" cy="252.18" r="0.55" fill="#905070" fill-opacity="0.75"/>
<circle cx="302.55" cy="249.30" r="0.55" fill="#905070" fill-opacity="0.75"/>
<circle cx="337.38" cy="248.56" r="0.55" fill="#905070" fill-opacity="0.75"/>
<circle cx="278.17" cy="249.36" r="0.55" fill="#905070" fill-opacity="0.75"/>
<circle cx="380.53" cy="244.67" r="0.55" fill="#905070" fill-opacity="0.75"/>
<circle cx="366.00" cy="248.04" r="0.55" fill="#905070" fill-opacity="0.75"/>
<circle cx="255.00" cy="259.45" r="0.55" fill="#905070" fill-opacity="0.75"/>
<circle cx="325.82" cy="247.50" r="0.55" fill="#905070" fill-opacity="0.75"/>
<circle cx="276.97" cy="241.62" r="0.55" fill="#905070" fill-opacity="0.75"/>
<circle cx="270.87" cy="257.04" r="0.55" fill="#905070" fill-opacity="0.75"/>
<circle cx="315.88" cy="246.82" r="0.55" fill="#905070" fill-opacity="0.75"/>
<circle cx="350.91" cy="250.81" r="0.55" fill="#905070" fill-opacity="0.75"/>
<circle cx="341.27" cy="251.56" r="0.55" fill="#905070" fill-opacity="0.75"/>
<circle cx="332.32" cy="248.85" r="0.55" fill="#905070" fill-opacity="0.75"/>
<circle cx="335.23" cy="249.51" r="0.55" fill="#905070" fill-opacity="0.75"/>
<circle cx="371.04" cy="248.89" r="0.55" fill="#905070" fill-opacity="0.75"/>
<circle cx="260.43" cy="256.61" r="0.55" fill="#905070" fill-opacity="0.75"/>
<circle cx="357.36" cy="245.36" r="0.55" fill="#905070" fill-opacity="0.75"/>
<circle cx="386.18" cy="251.37" r="0.55" fill="#905070" fill-opacity="0.75"/>
<circle cx="333.34" cy="247.41" r="0.55" fill="#905070" fill-opacity="0.75"/>
<circle cx="249.27" cy="275.09" r="0.55" fill="#905070" fill-opacity="0.75"/>
<circle cx="287.85" cy="245.57" r="0.55" fill="#905070" fill-opacity="0.75"/>
<circle cx="253.51" cy="262.56" r="0.55" fill="#905070" fill-opacity="0.75"/>
<circle cx="320.52" cy="243.23" r="0.55" fill="#905070" fill-opacity="0.75"/>
<circle cx="263.02" cy="261.92" r="0.55" fill="#905070" fill-opacity="0.75"/>
<circle cx="359.70" cy="243.55" r="0.55" fill="#905070" fill-opacity="0.75"/>
<circle cx="310.42" cy="251.49" r="0.55" fill="#905070" fill-opacity="0.75"/>
<circle cx="341.10" cy="246.87" r="0.55" fill="#905070" fill-opacity="0.75"/>
<circle cx="311.43" cy="249.64" r="0.55" fill="#905070" fill-opacity="0.75"/>
<circle cx="359.43" cy="246.96" r="0.55" fill="#905070" fill-opacity="0.75"/>
<circle cx="306.39" cy="249.42" r="0.55" fill="#905070" fill-opacity="0.75"/>
<circle cx="262.23" cy="252.10" r="0.55" fill="#905070" fill-opacity="0.75"/>
<circle cx="324.28" cy="251.87" r="0.55" fill="#905070" fill-opacity="0.75"/>
<circle cx="331.45" cy="247.63" r="0.55" fill="#905070" fill-opacity="0.75"/>
<circle cx="252.66" cy="266.37" r="0.55" fill="#905070" fill-opacity="0.75"/>
<circle cx="295.78" cy="248.61" r="0.55" fill="#905070" fill-opacity="0.75"/>
<circle cx="285.62" cy="251.20" r="0.55" fill="#905070" fill-opacity="0.75"/>
<circle cx="354.14" cy="244.14" r="0.55" fill="#905070" fill-opacity="0.75"/>
<circle cx="350.50" cy="245.14" r="0.55" fill="#905070" fill-opacity="0.75"/>
<circle cx="320.98" cy="244.93" r="0.55" fill="#905070" fill-opacity="0.75"/>
<circle cx="257.68" cy="260.92" r="0.55" fill="#905070" fill-opacity="0.75"/>
<circle cx="358.63" cy="246.77" r="0.55" fill="#905070" fill-opacity="0.75"/>
<circle cx="376.87" cy="248.74" r="0.55" fill="#905070" fill-opacity="0.75"/>
<circle cx="329.32" cy="245.10" r="0.55" fill="#905070" fill-opacity="0.75"/>
<circle cx="266.40" cy="250.04" r="0.55" fill="#905070" fill-opacity="0.75"/>
<circle cx="386.94" cy="250.58" r="0.55" fill="#905070" fill-opacity="0.75"/>
<circle cx="386.91" cy="251.85" r="0.55" fill="#905070" fill-opacity="0.75"/>
<circle cx="265.85" cy="248.84" r="0.55" fill="#905070" fill-opacity="0.75"/>
<circle cx="283.17" cy="247.66" r="0.55" fill="#905070" fill-opacity="0.75"/>
<circle cx="376.60" cy="248.27" r="0.55" fill="#905070" fill-opacity="0.75"/>
<circle cx="314.35" cy="247.76" r="0.55" fill="#905070" fill-opacity="0.75"/>
<circle cx="249.65" cy="267.40" r="0.55" fill="#905070" fill-opacity="0.75"/>
<circle cx="373.98" cy="241.86" r="0.55" fill="#905070" fill-opacity="0.75"/>
<circle cx="267.99" cy="260.59" r="0.55" fill="#8a5a7a" fill-opacity="0.6"/>
<circle cx="300.09" cy="247.77" r="0.55" fill="#8a5a7a" fill-opacity="0.6"/>
<circle cx="299.56" cy="244.87" r="0.55" fill="#8a5a7a" fill-opacity="0.6"/>
<circle cx="278.59" cy="254.55" r="0.55" fill="#8a5a7a" fill-opacity="0.6"/>
<circle cx="273.07" cy="263.30" r="0.55" fill="#8a5a7a" fill-opacity="0.6"/>
<circle cx="267.48" cy="266.05" r="0.55" fill="#8a5a7a" fill-opacity="0.6"/>
<circle cx="285.94" cy="241.39" r="0.55" fill="#8a5a7a" fill-opacity="0.6"/>
<circle cx="355.10" cy="254.69" r="0.55" fill="#8a5a7a" fill-opacity="0.6"/>
<circle cx="358.12" cy="254.33" r="0.55" fill="#8a5a7a" fill-opacity="0.6"/>
<circle cx="340.82" cy="248.36" r="0.55" fill="#8a5a7a" fill-opacity="0.6"/>
<circle cx="346.23" cy="254.73" r="0.55" fill="#8a5a7a" fill-opacity="0.6"/>
<circle cx="382.28" cy="248.95" r="0.55" fill="#8a5a7a" fill-opacity="0.6"/>
<circle cx="270.54" cy="259.37" r="0.55" fill="#8a5a7a" fill-opacity="0.6"/>
<circle cx="377.77" cy="252.90" r="0.55" fill="#8a5a7a" fill-opacity="0.6"/>
<circle cx="350.87" cy="255.19" r="0.55" fill="#8a5a7a" fill-opacity="0.6"/>
<circle cx="310.86" cy="249.21" r="0.55" fill="#8a5a7a" fill-opacity="0.6"/>
<circle cx="337.20" cy="246.98" r="0.55" fill="#8a5a7a" fill-opacity="0.6"/>
<circle cx="300.20" cy="252.24" r="0.55" fill="#8a5a7a" fill-opacity="0.6"/>
<circle cx="294.27" cy="246.94" r="0.55" fill="#8a5a7a" fill-opacity="0.6"/>
<circle cx="294.09" cy="244.92" r="0.55" fill="#8a5a7a" fill-opacity="0.6"/>
<circle cx="343.32" cy="257.61" r="0.55" fill="#8a5a7a" fill-opacity="0.6"/>
<circle cx="381.60" cy="253.34" r="0.55" fill="#8a5a7a" fill-opacity="0.6"/>
<circle cx="287.35" cy="245.20" r="0.55" fill="#8a5a7a" fill-opacity="0.6"/>
<circle cx="269.31" cy="252.10" r="0.55" fill="#8a5a7a" fill-opacity="0.6"/>
<circle cx="335.07" cy="254.75" r="0.55" fill="#8a5a7a" fill-opacity="0.6"/>
<circle cx="292.18" cy="241.56" r="0.55" fill="#8a5a7a" fill-opacity="0.6"/>
<circle cx="274.26" cy="248.65" r="0.55" fill="#8a5a7a" fill-opacity="0.6"/>
<circle cx="324.68" cy="248.09" r="0.55" fill="#8a5a7a" fill-opacity="0.6"/>
<circle cx="372.46" cy="254.48" r="0.55" fill="#8a5a7a" fill-opacity="0.6"/>
<circle cx="304.52" cy="247.73" r="0.55" fill="#8a5a7a" fill-opacity="0.6"/>
<line x1="240.1" y1="304.4" x2="397.5" y2="304.4" stroke="#707070" stroke-width="0.7"/>
<line x1="240.1" y1="304.4" x2="240.1" y2="222.8" stroke="#707070" stroke-width="0.7"/>
<g transform="translate(240.1 311.7) scale(0.1)"><text x="0" y="0" font-size="48.0" text-anchor="middle" font-weight="normal" fill="#1e1e1e" stroke="#1e1e1e" stroke-width="1.40">0</text></g>
<g transform="translate(264.32 311.7) scale(0.1)"><text x="0" y="0" font-size="48.0" text-anchor="middle" font-weight="normal" fill="#1e1e1e" stroke="#1e1e1e" stroke-width="1.40">20</text></g>
<g transform="translate(288.53999999999996 311.7) scale(0.1)"><text x="0" y="0" font-size="48.0" text-anchor="middle" font-weight="normal" fill="#1e1e1e" stroke="#1e1e1e" stroke-width="1.40">40</text></g>
<g transform="translate(312.76 311.7) scale(0.1)"><text x="0" y="0" font-size="48.0" text-anchor="middle" font-weight="normal" fill="#1e1e1e" stroke="#1e1e1e" stroke-width="1.40">60</text></g>
<g transform="translate(336.98 311.7) scale(0.1)"><text x="0" y="0" font-size="48.0" text-anchor="middle" font-weight="normal" fill="#1e1e1e" stroke="#1e1e1e" stroke-width="1.40">80</text></g>
<g transform="translate(361.2 311.7) scale(0.1)"><text x="0" y="0" font-size="48.0" text-anchor="middle" font-weight="normal" fill="#1e1e1e" stroke="#1e1e1e" stroke-width="1.40">100</text></g>
<g transform="translate(385.41999999999996 311.7) scale(0.1)"><text x="0" y="0" font-size="48.0" text-anchor="middle" font-weight="normal" fill="#1e1e1e" stroke="#1e1e1e" stroke-width="1.40">120</text></g>
<g transform="translate(239.1 306.9) scale(0.1)"><text x="0" y="0" font-size="48.0" text-anchor="end" font-weight="normal" fill="#1e1e1e" stroke="#1e1e1e" stroke-width="1.40">0</text></g>
<g transform="translate(239.1 293.34999999999997) scale(0.1)"><text x="0" y="0" font-size="48.0" text-anchor="end" font-weight="normal" fill="#1e1e1e" stroke="#1e1e1e" stroke-width="1.40">20</text></g>
<g transform="translate(239.1 279.79999999999995) scale(0.1)"><text x="0" y="0" font-size="48.0" text-anchor="end" font-weight="normal" fill="#1e1e1e" stroke="#1e1e1e" stroke-width="1.40">40</text></g>
<g transform="translate(239.1 266.25) scale(0.1)"><text x="0" y="0" font-size="48.0" text-anchor="end" font-weight="normal" fill="#1e1e1e" stroke="#1e1e1e" stroke-width="1.40">60</text></g>
<g transform="translate(239.1 252.7) scale(0.1)"><text x="0" y="0" font-size="48.0" text-anchor="end" font-weight="normal" fill="#1e1e1e" stroke="#1e1e1e" stroke-width="1.40">80</text></g>
<g transform="translate(239.1 239.14999999999998) scale(0.1)"><text x="0" y="0" font-size="48.0" text-anchor="end" font-weight="normal" fill="#1e1e1e" stroke="#1e1e1e" stroke-width="1.40">100</text></g>
<g transform="translate(239.1 225.59999999999997) scale(0.1)"><text x="0" y="0" font-size="48.0" text-anchor="end" font-weight="normal" fill="#1e1e1e" stroke="#1e1e1e" stroke-width="1.40">120</text></g>
<g transform="translate(318.4 317.2) scale(0.1)"><text x="0" y="0" font-size="56.0" text-anchor="middle" font-weight="normal" fill="#1e1e1e" stroke="#1e1e1e" stroke-width="2.20">Days Post-Implantation</text></g>
<g transform="translate(227.0 264.6) rotate(-90) scale(0.1)"><text x="0" y="0" font-size="53.0" text-anchor="middle" font-weight="normal" fill="#1e1e1e" stroke="#1e1e1e" stroke-width="2.20">Peak-to-peak voltage (μV)</text></g>
<rect x="372.4" y="224.2" width="24.100000000000023" height="17.100000000000023" fill="#fff" stroke="#555" stroke-width="0.5"/>
<circle cx="376.30" cy="227.20" r="0.5" fill="#7aa8c8" fill-opacity="1"/>
<g transform="translate(380 228.7) scale(0.1)"><text x="0" y="0" font-size="43.0" text-anchor="start" font-weight="normal" fill="#111" stroke="#111" stroke-width="0.00">P1 Pt</text></g>
<circle cx="376.30" cy="232.50" r="0.5" fill="#d07080" fill-opacity="1"/>
<g transform="translate(380 234.0) scale(0.1)"><text x="0" y="0" font-size="43.0" text-anchor="start" font-weight="normal" fill="#111" stroke="#111" stroke-width="0.00">P2 Pt</text></g>
<circle cx="376.30" cy="237.60" r="0.5" fill="#a080a8" fill-opacity="1"/>
<g transform="translate(380 239.1) scale(0.1)"><text x="0" y="0" font-size="43.0" text-anchor="start" font-weight="normal" fill="#111" stroke="#111" stroke-width="0.00">P2 IrOx</text></g>
<g transform="translate(221.2 217.6) scale(0.1)"><text x="0" y="0" font-size="90.0" text-anchor="start" font-weight="bold" fill="#000" stroke="#000" stroke-width="2.20">F</text></g>
<line x1="73" y1="214.6" x2="133" y2="214.6" stroke="#ececec" stroke-width="0.7"/>
<line x1="289" y1="214.6" x2="351" y2="214.6" stroke="#ececec" stroke-width="0.7"/>
</svg></body></html>
